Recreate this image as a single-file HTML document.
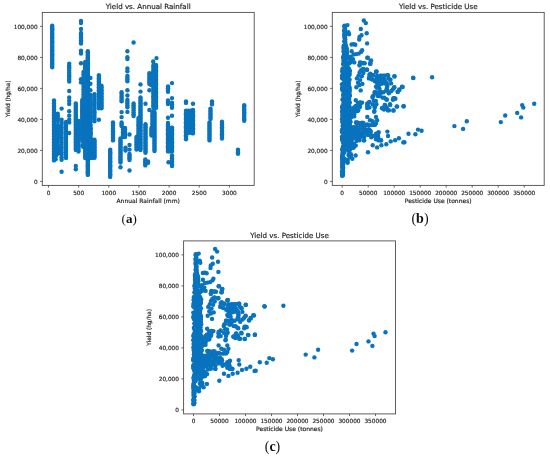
<!DOCTYPE html>
<html lang="en">
<head>
<meta charset="utf-8">
<title>Yield scatter plots</title>
<style>
html,body{margin:0;padding:0;background:#fff;}
body{width:550px;height:458px;overflow:hidden;}
svg{display:block;}
</style>
</head>
<body>
<svg width="550" height="458" viewBox="0 0 550 458">
<rect width="550" height="458" fill="#fff"/>
<g transform="translate(0,0)">
<g fill="#0973bd">
<circle cx="52.2" cy="25.6" r="2.2"/>
<circle cx="52.2" cy="26.9" r="2.2"/>
<circle cx="52.2" cy="28.2" r="2.2"/>
<circle cx="52.2" cy="29.5" r="2.2"/>
<circle cx="52.2" cy="30.8" r="2.2"/>
<circle cx="52.2" cy="32.1" r="2.2"/>
<circle cx="52.2" cy="33.4" r="2.2"/>
<circle cx="52.2" cy="34.7" r="2.2"/>
<circle cx="52.2" cy="36" r="2.2"/>
<circle cx="52.2" cy="37.3" r="2.2"/>
<circle cx="52.2" cy="38.6" r="2.2"/>
<circle cx="52.2" cy="39.9" r="2.2"/>
<circle cx="52.2" cy="41.2" r="2.2"/>
<circle cx="52.2" cy="42.5" r="2.2"/>
<circle cx="52.2" cy="43.8" r="2.2"/>
<circle cx="52.2" cy="45.1" r="2.2"/>
<circle cx="52.2" cy="46.4" r="2.2"/>
<circle cx="52.2" cy="47.7" r="2.2"/>
<circle cx="52.2" cy="49" r="2.2"/>
<circle cx="52.2" cy="50.3" r="2.2"/>
<circle cx="52.2" cy="51.6" r="2.2"/>
<circle cx="52.2" cy="52.9" r="2.2"/>
<circle cx="52.2" cy="54.2" r="2.2"/>
<circle cx="52.2" cy="55.5" r="2.2"/>
<circle cx="52.2" cy="56.8" r="2.2"/>
<circle cx="52.2" cy="58.1" r="2.2"/>
<circle cx="52.2" cy="59.4" r="2.2"/>
<circle cx="52.2" cy="60.7" r="2.2"/>
<circle cx="52.2" cy="62" r="2.2"/>
<circle cx="52.2" cy="63.3" r="2.2"/>
<circle cx="52.2" cy="64.6" r="2.2"/>
<circle cx="52.2" cy="65.9" r="2.2"/>
<circle cx="52.2" cy="67.2" r="2.2"/>
<circle cx="54" cy="100.4" r="2.2"/>
<circle cx="54" cy="101.9" r="2.2"/>
<circle cx="54" cy="103.4" r="2.2"/>
<circle cx="54" cy="104.9" r="2.2"/>
<circle cx="54" cy="106.4" r="2.2"/>
<circle cx="54" cy="107.9" r="2.2"/>
<circle cx="54" cy="109.4" r="2.2"/>
<circle cx="54" cy="110.9" r="2.2"/>
<circle cx="54" cy="112.4" r="2.2"/>
<circle cx="54" cy="113.9" r="2.2"/>
<circle cx="54" cy="115.4" r="2.2"/>
<circle cx="54" cy="116.9" r="2.2"/>
<circle cx="54" cy="118.4" r="2.2"/>
<circle cx="54" cy="119.9" r="2.2"/>
<circle cx="54" cy="121.4" r="2.2"/>
<circle cx="54" cy="122.9" r="2.2"/>
<circle cx="54" cy="124.4" r="2.2"/>
<circle cx="54" cy="125.9" r="2.2"/>
<circle cx="54" cy="127.4" r="2.2"/>
<circle cx="54" cy="128.9" r="2.2"/>
<circle cx="54" cy="130.4" r="2.2"/>
<circle cx="54" cy="131.9" r="2.2"/>
<circle cx="54" cy="133.4" r="2.2"/>
<circle cx="54" cy="134.9" r="2.2"/>
<circle cx="54" cy="136.4" r="2.2"/>
<circle cx="54" cy="137.9" r="2.2"/>
<circle cx="54" cy="139.4" r="2.2"/>
<circle cx="54" cy="140.9" r="2.2"/>
<circle cx="54" cy="142.4" r="2.2"/>
<circle cx="54" cy="143.9" r="2.2"/>
<circle cx="54" cy="145.4" r="2.2"/>
<circle cx="54" cy="146.9" r="2.2"/>
<circle cx="54" cy="148.4" r="2.2"/>
<circle cx="54" cy="149.9" r="2.2"/>
<circle cx="54" cy="151.4" r="2.2"/>
<circle cx="54" cy="152.9" r="2.2"/>
<circle cx="54" cy="154.4" r="2.2"/>
<circle cx="54" cy="155.9" r="2.2"/>
<circle cx="54" cy="157.4" r="2.2"/>
<circle cx="54" cy="158.9" r="2.2"/>
<circle cx="54" cy="160.4" r="2.2"/>
<circle cx="57.7" cy="113.8" r="2.2"/>
<circle cx="57.7" cy="115.6" r="2.2"/>
<circle cx="57.7" cy="117.4" r="2.2"/>
<circle cx="57.7" cy="119.2" r="2.2"/>
<circle cx="57.7" cy="121" r="2.2"/>
<circle cx="57.7" cy="125" r="2.2"/>
<circle cx="57.7" cy="127.4" r="2.2"/>
<circle cx="57.7" cy="129.8" r="2.2"/>
<circle cx="57.7" cy="132.2" r="2.2"/>
<circle cx="57.7" cy="134.6" r="2.2"/>
<circle cx="57.7" cy="137" r="2.2"/>
<circle cx="57.7" cy="139.4" r="2.2"/>
<circle cx="57.7" cy="141.8" r="2.2"/>
<circle cx="57.7" cy="144.2" r="2.2"/>
<circle cx="57.7" cy="146.6" r="2.2"/>
<circle cx="57.7" cy="149" r="2.2"/>
<circle cx="57.7" cy="151.4" r="2.2"/>
<circle cx="57.7" cy="153.8" r="2.2"/>
<circle cx="61.6" cy="119.7" r="2.2"/>
<circle cx="61.6" cy="122.2" r="2.2"/>
<circle cx="61.6" cy="124.7" r="2.2"/>
<circle cx="61.6" cy="127.2" r="2.2"/>
<circle cx="61.6" cy="129.7" r="2.2"/>
<circle cx="61.6" cy="132.2" r="2.2"/>
<circle cx="61.6" cy="134.7" r="2.2"/>
<circle cx="61.6" cy="137.2" r="2.2"/>
<circle cx="61.6" cy="139.7" r="2.2"/>
<circle cx="61.6" cy="142.2" r="2.2"/>
<circle cx="61.6" cy="144.7" r="2.2"/>
<circle cx="61.6" cy="147.2" r="2.2"/>
<circle cx="61.6" cy="149.7" r="2.2"/>
<circle cx="61.6" cy="152.2" r="2.2"/>
<circle cx="61.6" cy="154.7" r="2.2"/>
<circle cx="61.6" cy="157.2" r="2.2"/>
<circle cx="61.6" cy="159.7" r="2.2"/>
<circle cx="61.6" cy="108.6" r="2.2"/>
<circle cx="61.6" cy="171.8" r="2.2"/>
<circle cx="66" cy="122" r="2.2"/>
<circle cx="66" cy="124" r="2.2"/>
<circle cx="66" cy="126" r="2.2"/>
<circle cx="66" cy="128" r="2.2"/>
<circle cx="66" cy="130" r="2.2"/>
<circle cx="66" cy="132" r="2.2"/>
<circle cx="66" cy="134" r="2.2"/>
<circle cx="66" cy="136" r="2.2"/>
<circle cx="66" cy="138" r="2.2"/>
<circle cx="66" cy="140" r="2.2"/>
<circle cx="66" cy="142" r="2.2"/>
<circle cx="66" cy="144" r="2.2"/>
<circle cx="66" cy="146" r="2.2"/>
<circle cx="66" cy="148" r="2.2"/>
<circle cx="66" cy="150" r="2.2"/>
<circle cx="66" cy="152" r="2.2"/>
<circle cx="66" cy="154" r="2.2"/>
<circle cx="66" cy="156" r="2.2"/>
<circle cx="66" cy="158" r="2.2"/>
<circle cx="69.2" cy="63.6" r="2.2"/>
<circle cx="69.2" cy="65.4" r="2.2"/>
<circle cx="69.2" cy="67.2" r="2.2"/>
<circle cx="69.2" cy="69" r="2.2"/>
<circle cx="69.2" cy="70.8" r="2.2"/>
<circle cx="69.2" cy="72.6" r="2.2"/>
<circle cx="69.2" cy="74.4" r="2.2"/>
<circle cx="69.2" cy="76.2" r="2.2"/>
<circle cx="69.2" cy="78" r="2.2"/>
<circle cx="69.2" cy="79.8" r="2.2"/>
<circle cx="69.2" cy="81.6" r="2.2"/>
<circle cx="69.2" cy="91" r="2.2"/>
<circle cx="69.2" cy="97.5" r="2.2"/>
<circle cx="69.2" cy="100.8" r="2.2"/>
<circle cx="69.2" cy="104" r="2.2"/>
<circle cx="69.2" cy="111.2" r="2.2"/>
<circle cx="69.2" cy="115.8" r="2.2"/>
<circle cx="69.2" cy="119.7" r="2.2"/>
<circle cx="69.2" cy="122.4" r="2.2"/>
<circle cx="69.2" cy="133" r="2.2"/>
<circle cx="75.8" cy="103.4" r="2.2"/>
<circle cx="75.8" cy="104.9" r="2.2"/>
<circle cx="75.8" cy="106.4" r="2.2"/>
<circle cx="75.8" cy="107.9" r="2.2"/>
<circle cx="75.8" cy="109.4" r="2.2"/>
<circle cx="75.8" cy="110.9" r="2.2"/>
<circle cx="75.8" cy="112.4" r="2.2"/>
<circle cx="75.8" cy="113.9" r="2.2"/>
<circle cx="75.8" cy="115.4" r="2.2"/>
<circle cx="75.8" cy="116.9" r="2.2"/>
<circle cx="75.8" cy="118.4" r="2.2"/>
<circle cx="75.8" cy="119.9" r="2.2"/>
<circle cx="75.8" cy="121.4" r="2.2"/>
<circle cx="75.8" cy="122.9" r="2.2"/>
<circle cx="75.8" cy="124.4" r="2.2"/>
<circle cx="75.8" cy="125.9" r="2.2"/>
<circle cx="75.8" cy="127.4" r="2.2"/>
<circle cx="75.8" cy="128.9" r="2.2"/>
<circle cx="75.8" cy="130.4" r="2.2"/>
<circle cx="75.8" cy="131.9" r="2.2"/>
<circle cx="75.8" cy="133.4" r="2.2"/>
<circle cx="75.8" cy="134.9" r="2.2"/>
<circle cx="75.8" cy="136.4" r="2.2"/>
<circle cx="75.8" cy="137.9" r="2.2"/>
<circle cx="75.8" cy="139.4" r="2.2"/>
<circle cx="75.8" cy="140.9" r="2.2"/>
<circle cx="75.8" cy="142.4" r="2.2"/>
<circle cx="75.8" cy="143.9" r="2.2"/>
<circle cx="75.8" cy="145.4" r="2.2"/>
<circle cx="75.8" cy="146.9" r="2.2"/>
<circle cx="75.8" cy="148.4" r="2.2"/>
<circle cx="75.8" cy="149.9" r="2.2"/>
<circle cx="75.8" cy="166" r="2.2"/>
<circle cx="75.8" cy="169.2" r="2.2"/>
<circle cx="78.5" cy="121" r="2.2"/>
<circle cx="78.5" cy="122.8" r="2.2"/>
<circle cx="78.5" cy="124.6" r="2.2"/>
<circle cx="78.5" cy="126.4" r="2.2"/>
<circle cx="78.5" cy="128.2" r="2.2"/>
<circle cx="78.5" cy="130" r="2.2"/>
<circle cx="78.5" cy="131.8" r="2.2"/>
<circle cx="78.5" cy="133.6" r="2.2"/>
<circle cx="78.5" cy="135.4" r="2.2"/>
<circle cx="78.5" cy="137.2" r="2.2"/>
<circle cx="78.5" cy="139" r="2.2"/>
<circle cx="78.5" cy="140.8" r="2.2"/>
<circle cx="78.5" cy="142.6" r="2.2"/>
<circle cx="78.5" cy="144.4" r="2.2"/>
<circle cx="78.5" cy="146.2" r="2.2"/>
<circle cx="78.5" cy="148" r="2.2"/>
<circle cx="78.5" cy="149.8" r="2.2"/>
<circle cx="78.5" cy="151.6" r="2.2"/>
<circle cx="81" cy="20.9" r="2.2"/>
<circle cx="81" cy="23.1" r="2.2"/>
<circle cx="81" cy="29" r="2.2"/>
<circle cx="81" cy="63.3" r="2.2"/>
<circle cx="81" cy="79.2" r="2.2"/>
<circle cx="81" cy="82.4" r="2.2"/>
<circle cx="81" cy="33" r="2.2"/>
<circle cx="81" cy="34.5" r="2.2"/>
<circle cx="81" cy="36" r="2.2"/>
<circle cx="81" cy="37.5" r="2.2"/>
<circle cx="81" cy="39" r="2.2"/>
<circle cx="81" cy="40.5" r="2.2"/>
<circle cx="81" cy="42" r="2.2"/>
<circle cx="81" cy="43.5" r="2.2"/>
<circle cx="81" cy="50.6" r="2.2"/>
<circle cx="81" cy="52.1" r="2.2"/>
<circle cx="81" cy="53.6" r="2.2"/>
<circle cx="82.3" cy="100" r="2.2"/>
<circle cx="82.3" cy="101.5" r="2.2"/>
<circle cx="82.3" cy="103" r="2.2"/>
<circle cx="82.3" cy="104.5" r="2.2"/>
<circle cx="82.3" cy="106" r="2.2"/>
<circle cx="82.3" cy="107.5" r="2.2"/>
<circle cx="82.3" cy="109" r="2.2"/>
<circle cx="82.3" cy="110.5" r="2.2"/>
<circle cx="82.3" cy="112" r="2.2"/>
<circle cx="82.3" cy="113.5" r="2.2"/>
<circle cx="82.3" cy="115" r="2.2"/>
<circle cx="82.3" cy="116.5" r="2.2"/>
<circle cx="82.3" cy="118" r="2.2"/>
<circle cx="82.3" cy="119.5" r="2.2"/>
<circle cx="82.3" cy="121" r="2.2"/>
<circle cx="82.3" cy="122.5" r="2.2"/>
<circle cx="82.3" cy="124" r="2.2"/>
<circle cx="82.3" cy="125.5" r="2.2"/>
<circle cx="82.3" cy="127" r="2.2"/>
<circle cx="82.3" cy="128.5" r="2.2"/>
<circle cx="82.3" cy="130" r="2.2"/>
<circle cx="82.3" cy="131.5" r="2.2"/>
<circle cx="82.3" cy="133" r="2.2"/>
<circle cx="82.3" cy="134.5" r="2.2"/>
<circle cx="82.3" cy="136" r="2.2"/>
<circle cx="82.3" cy="137.5" r="2.2"/>
<circle cx="82.3" cy="139" r="2.2"/>
<circle cx="82.3" cy="140.5" r="2.2"/>
<circle cx="87.8" cy="51.3" r="2.2"/>
<circle cx="87.8" cy="52.5" r="2.2"/>
<circle cx="87.8" cy="53.7" r="2.2"/>
<circle cx="87.8" cy="54.9" r="2.2"/>
<circle cx="87.8" cy="56.1" r="2.2"/>
<circle cx="87.8" cy="57.3" r="2.2"/>
<circle cx="87.8" cy="58.5" r="2.2"/>
<circle cx="87.8" cy="59.7" r="2.2"/>
<circle cx="87.8" cy="60.9" r="2.2"/>
<circle cx="87.8" cy="62.1" r="2.2"/>
<circle cx="87.8" cy="63.3" r="2.2"/>
<circle cx="87.8" cy="64.5" r="2.2"/>
<circle cx="87.8" cy="65.7" r="2.2"/>
<circle cx="87.8" cy="66.9" r="2.2"/>
<circle cx="87.8" cy="68.1" r="2.2"/>
<circle cx="87.8" cy="69.3" r="2.2"/>
<circle cx="87.8" cy="70.5" r="2.2"/>
<circle cx="87.8" cy="71.7" r="2.2"/>
<circle cx="87.8" cy="72.9" r="2.2"/>
<circle cx="87.8" cy="74.1" r="2.2"/>
<circle cx="87.8" cy="75.3" r="2.2"/>
<circle cx="87.8" cy="76.5" r="2.2"/>
<circle cx="87.8" cy="77.7" r="2.2"/>
<circle cx="87.8" cy="78.9" r="2.2"/>
<circle cx="87.8" cy="80.1" r="2.2"/>
<circle cx="87.8" cy="81.3" r="2.2"/>
<circle cx="87.8" cy="82.5" r="2.2"/>
<circle cx="87.8" cy="83.7" r="2.2"/>
<circle cx="87.8" cy="84.9" r="2.2"/>
<circle cx="87.8" cy="86.1" r="2.2"/>
<circle cx="87.8" cy="87.3" r="2.2"/>
<circle cx="87.8" cy="88.5" r="2.2"/>
<circle cx="87.8" cy="89.7" r="2.2"/>
<circle cx="87.8" cy="90.9" r="2.2"/>
<circle cx="87.8" cy="92.1" r="2.2"/>
<circle cx="87.8" cy="93.3" r="2.2"/>
<circle cx="87.8" cy="94.5" r="2.2"/>
<circle cx="87.8" cy="95.7" r="2.2"/>
<circle cx="87.8" cy="96.9" r="2.2"/>
<circle cx="87.8" cy="98.1" r="2.2"/>
<circle cx="87.8" cy="99.3" r="2.2"/>
<circle cx="87.8" cy="100.5" r="2.2"/>
<circle cx="87.8" cy="101.7" r="2.2"/>
<circle cx="87.8" cy="102.9" r="2.2"/>
<circle cx="87.8" cy="104.1" r="2.2"/>
<circle cx="87.8" cy="105.3" r="2.2"/>
<circle cx="87.8" cy="106.5" r="2.2"/>
<circle cx="87.8" cy="107.7" r="2.2"/>
<circle cx="87.8" cy="108.9" r="2.2"/>
<circle cx="87.8" cy="110.1" r="2.2"/>
<circle cx="87.8" cy="111.3" r="2.2"/>
<circle cx="87.8" cy="112.5" r="2.2"/>
<circle cx="87.8" cy="113.7" r="2.2"/>
<circle cx="87.8" cy="114.9" r="2.2"/>
<circle cx="87.8" cy="116.1" r="2.2"/>
<circle cx="87.8" cy="117.3" r="2.2"/>
<circle cx="87.8" cy="118.5" r="2.2"/>
<circle cx="87.8" cy="119.7" r="2.2"/>
<circle cx="87.8" cy="120.9" r="2.2"/>
<circle cx="87.8" cy="122.1" r="2.2"/>
<circle cx="87.8" cy="123.3" r="2.2"/>
<circle cx="87.8" cy="124.5" r="2.2"/>
<circle cx="87.8" cy="125.7" r="2.2"/>
<circle cx="87.8" cy="126.9" r="2.2"/>
<circle cx="87.8" cy="128.1" r="2.2"/>
<circle cx="87.8" cy="129.3" r="2.2"/>
<circle cx="87.8" cy="130.5" r="2.2"/>
<circle cx="87.8" cy="131.7" r="2.2"/>
<circle cx="87.8" cy="132.9" r="2.2"/>
<circle cx="87.8" cy="134.1" r="2.2"/>
<circle cx="87.8" cy="135.3" r="2.2"/>
<circle cx="87.8" cy="136.5" r="2.2"/>
<circle cx="87.8" cy="137.7" r="2.2"/>
<circle cx="87.8" cy="138.9" r="2.2"/>
<circle cx="87.8" cy="140.1" r="2.2"/>
<circle cx="87.8" cy="141.3" r="2.2"/>
<circle cx="87.8" cy="142.5" r="2.2"/>
<circle cx="87.8" cy="143.7" r="2.2"/>
<circle cx="87.8" cy="144.9" r="2.2"/>
<circle cx="87.8" cy="146.1" r="2.2"/>
<circle cx="87.8" cy="147.3" r="2.2"/>
<circle cx="87.8" cy="148.5" r="2.2"/>
<circle cx="87.8" cy="149.7" r="2.2"/>
<circle cx="87.8" cy="150.9" r="2.2"/>
<circle cx="87.8" cy="152.1" r="2.2"/>
<circle cx="87.8" cy="153.3" r="2.2"/>
<circle cx="87.8" cy="154.5" r="2.2"/>
<circle cx="87.8" cy="155.7" r="2.2"/>
<circle cx="87.8" cy="156.9" r="2.2"/>
<circle cx="87.8" cy="158.1" r="2.2"/>
<circle cx="87.8" cy="159.3" r="2.2"/>
<circle cx="87.8" cy="160.5" r="2.2"/>
<circle cx="87.8" cy="161.7" r="2.2"/>
<circle cx="87.8" cy="162.9" r="2.2"/>
<circle cx="87.8" cy="164.1" r="2.2"/>
<circle cx="87.8" cy="165.3" r="2.2"/>
<circle cx="87.8" cy="166.5" r="2.2"/>
<circle cx="87.8" cy="167.7" r="2.2"/>
<circle cx="87.8" cy="168.9" r="2.2"/>
<circle cx="87.8" cy="170.1" r="2.2"/>
<circle cx="87.8" cy="171.3" r="2.2"/>
<circle cx="87.8" cy="172.5" r="2.2"/>
<circle cx="87.8" cy="173.7" r="2.2"/>
<circle cx="87.8" cy="174.9" r="2.2"/>
<circle cx="85.2" cy="62" r="2.2"/>
<circle cx="85.2" cy="63.5" r="2.2"/>
<circle cx="85.2" cy="65" r="2.2"/>
<circle cx="85.2" cy="66.5" r="2.2"/>
<circle cx="85.2" cy="68" r="2.2"/>
<circle cx="85.2" cy="69.5" r="2.2"/>
<circle cx="85.2" cy="71" r="2.2"/>
<circle cx="85.2" cy="72.5" r="2.2"/>
<circle cx="85.2" cy="74" r="2.2"/>
<circle cx="85.2" cy="75.5" r="2.2"/>
<circle cx="85.2" cy="77" r="2.2"/>
<circle cx="85.2" cy="78.5" r="2.2"/>
<circle cx="85.2" cy="80" r="2.2"/>
<circle cx="85.2" cy="81.5" r="2.2"/>
<circle cx="85.2" cy="83" r="2.2"/>
<circle cx="85.2" cy="84.5" r="2.2"/>
<circle cx="85.2" cy="86" r="2.2"/>
<circle cx="85.2" cy="87.5" r="2.2"/>
<circle cx="85.2" cy="89" r="2.2"/>
<circle cx="85.2" cy="90.5" r="2.2"/>
<circle cx="85.2" cy="92" r="2.2"/>
<circle cx="85.2" cy="93.5" r="2.2"/>
<circle cx="85.2" cy="95" r="2.2"/>
<circle cx="85.2" cy="96.5" r="2.2"/>
<circle cx="85.2" cy="98" r="2.2"/>
<circle cx="85.2" cy="99.5" r="2.2"/>
<circle cx="85.2" cy="101" r="2.2"/>
<circle cx="85.2" cy="102.5" r="2.2"/>
<circle cx="85.2" cy="104" r="2.2"/>
<circle cx="85.2" cy="105.5" r="2.2"/>
<circle cx="85.2" cy="107" r="2.2"/>
<circle cx="85.2" cy="108.5" r="2.2"/>
<circle cx="85.2" cy="110" r="2.2"/>
<circle cx="85.2" cy="111.5" r="2.2"/>
<circle cx="85.2" cy="113" r="2.2"/>
<circle cx="85.2" cy="114.5" r="2.2"/>
<circle cx="85.2" cy="116" r="2.2"/>
<circle cx="85.2" cy="117.5" r="2.2"/>
<circle cx="85.2" cy="119" r="2.2"/>
<circle cx="85.2" cy="120.5" r="2.2"/>
<circle cx="85.2" cy="122" r="2.2"/>
<circle cx="85.2" cy="123.5" r="2.2"/>
<circle cx="85.2" cy="125" r="2.2"/>
<circle cx="85.2" cy="126.5" r="2.2"/>
<circle cx="85.2" cy="128" r="2.2"/>
<circle cx="85.2" cy="129.5" r="2.2"/>
<circle cx="85.2" cy="131" r="2.2"/>
<circle cx="85.2" cy="132.5" r="2.2"/>
<circle cx="85.2" cy="134" r="2.2"/>
<circle cx="85.2" cy="135.5" r="2.2"/>
<circle cx="85.2" cy="137" r="2.2"/>
<circle cx="85.2" cy="138.5" r="2.2"/>
<circle cx="85.2" cy="140" r="2.2"/>
<circle cx="85.2" cy="141.5" r="2.2"/>
<circle cx="85.2" cy="143" r="2.2"/>
<circle cx="85.2" cy="144.5" r="2.2"/>
<circle cx="85.2" cy="146" r="2.2"/>
<circle cx="85.2" cy="147.5" r="2.2"/>
<circle cx="85.2" cy="149" r="2.2"/>
<circle cx="85.2" cy="150.5" r="2.2"/>
<circle cx="85.2" cy="152" r="2.2"/>
<circle cx="85.2" cy="153.5" r="2.2"/>
<circle cx="85.2" cy="155" r="2.2"/>
<circle cx="85.2" cy="156.5" r="2.2"/>
<circle cx="85.2" cy="158" r="2.2"/>
<circle cx="83.5" cy="72" r="2.2"/>
<circle cx="83.5" cy="74.5" r="2.2"/>
<circle cx="83.5" cy="77" r="2.2"/>
<circle cx="83.5" cy="79.5" r="2.2"/>
<circle cx="83.5" cy="82" r="2.2"/>
<circle cx="83.5" cy="84.5" r="2.2"/>
<circle cx="83.5" cy="87" r="2.2"/>
<circle cx="83.5" cy="89.5" r="2.2"/>
<circle cx="83.5" cy="92" r="2.2"/>
<circle cx="83.5" cy="94.5" r="2.2"/>
<circle cx="83.5" cy="97" r="2.2"/>
<circle cx="83.5" cy="99.5" r="2.2"/>
<circle cx="90.4" cy="77.9" r="2.2"/>
<circle cx="90.4" cy="83.7" r="2.2"/>
<circle cx="90.4" cy="90.3" r="2.2"/>
<circle cx="90.4" cy="95" r="2.2"/>
<circle cx="90.4" cy="98" r="2.2"/>
<circle cx="90.4" cy="101" r="2.2"/>
<circle cx="90.4" cy="104" r="2.2"/>
<circle cx="90.4" cy="107" r="2.2"/>
<circle cx="90.4" cy="110" r="2.2"/>
<circle cx="90.4" cy="113" r="2.2"/>
<circle cx="90.4" cy="116" r="2.2"/>
<circle cx="90.4" cy="119" r="2.2"/>
<circle cx="90.4" cy="122" r="2.2"/>
<circle cx="90.4" cy="125" r="2.2"/>
<circle cx="90.4" cy="128" r="2.2"/>
<circle cx="90.4" cy="128" r="2.2"/>
<circle cx="90.4" cy="129.5" r="2.2"/>
<circle cx="90.4" cy="131" r="2.2"/>
<circle cx="90.4" cy="132.5" r="2.2"/>
<circle cx="90.4" cy="134" r="2.2"/>
<circle cx="90.4" cy="135.5" r="2.2"/>
<circle cx="90.4" cy="137" r="2.2"/>
<circle cx="90.4" cy="138.5" r="2.2"/>
<circle cx="90.4" cy="140" r="2.2"/>
<circle cx="90.4" cy="141.5" r="2.2"/>
<circle cx="90.4" cy="143" r="2.2"/>
<circle cx="90.4" cy="144.5" r="2.2"/>
<circle cx="90.4" cy="146" r="2.2"/>
<circle cx="90.4" cy="147.5" r="2.2"/>
<circle cx="90.4" cy="149" r="2.2"/>
<circle cx="90.4" cy="150.5" r="2.2"/>
<circle cx="90.4" cy="152" r="2.2"/>
<circle cx="90.4" cy="153.5" r="2.2"/>
<circle cx="90.4" cy="155" r="2.2"/>
<circle cx="90.4" cy="156.5" r="2.2"/>
<circle cx="90.4" cy="158" r="2.2"/>
<circle cx="94.4" cy="94.2" r="2.2"/>
<circle cx="94.4" cy="96" r="2.2"/>
<circle cx="94.4" cy="97.8" r="2.2"/>
<circle cx="94.4" cy="99.6" r="2.2"/>
<circle cx="94.4" cy="101.4" r="2.2"/>
<circle cx="94.4" cy="103.2" r="2.2"/>
<circle cx="94.4" cy="105" r="2.2"/>
<circle cx="94.4" cy="106.8" r="2.2"/>
<circle cx="94.4" cy="108.6" r="2.2"/>
<circle cx="94.4" cy="110.4" r="2.2"/>
<circle cx="94.4" cy="112.2" r="2.2"/>
<circle cx="94.4" cy="114" r="2.2"/>
<circle cx="94.4" cy="115.8" r="2.2"/>
<circle cx="94.4" cy="117.6" r="2.2"/>
<circle cx="94.4" cy="119.4" r="2.2"/>
<circle cx="94.4" cy="121.2" r="2.2"/>
<circle cx="92.5" cy="139.8" r="2.2"/>
<circle cx="92.5" cy="141.3" r="2.2"/>
<circle cx="92.5" cy="142.8" r="2.2"/>
<circle cx="92.5" cy="144.3" r="2.2"/>
<circle cx="92.5" cy="145.8" r="2.2"/>
<circle cx="92.5" cy="147.3" r="2.2"/>
<circle cx="92.5" cy="148.8" r="2.2"/>
<circle cx="92.5" cy="150.3" r="2.2"/>
<circle cx="92.5" cy="151.8" r="2.2"/>
<circle cx="92.5" cy="153.3" r="2.2"/>
<circle cx="92.5" cy="154.8" r="2.2"/>
<circle cx="92.5" cy="156.3" r="2.2"/>
<circle cx="92.5" cy="157.8" r="2.2"/>
<circle cx="94.5" cy="139.8" r="2.2"/>
<circle cx="94.5" cy="141.3" r="2.2"/>
<circle cx="94.5" cy="142.8" r="2.2"/>
<circle cx="94.5" cy="144.3" r="2.2"/>
<circle cx="94.5" cy="145.8" r="2.2"/>
<circle cx="94.5" cy="147.3" r="2.2"/>
<circle cx="94.5" cy="148.8" r="2.2"/>
<circle cx="94.5" cy="150.3" r="2.2"/>
<circle cx="94.5" cy="151.8" r="2.2"/>
<circle cx="94.5" cy="153.3" r="2.2"/>
<circle cx="94.5" cy="154.8" r="2.2"/>
<circle cx="94.5" cy="156.3" r="2.2"/>
<circle cx="94.5" cy="157.8" r="2.2"/>
<circle cx="98.9" cy="75.2" r="2.2"/>
<circle cx="98.9" cy="76.7" r="2.2"/>
<circle cx="98.9" cy="78.2" r="2.2"/>
<circle cx="98.9" cy="79.7" r="2.2"/>
<circle cx="98.9" cy="81.2" r="2.2"/>
<circle cx="98.9" cy="82.7" r="2.2"/>
<circle cx="98.9" cy="84.2" r="2.2"/>
<circle cx="98.9" cy="85.7" r="2.2"/>
<circle cx="98.9" cy="87.2" r="2.2"/>
<circle cx="98.9" cy="88.7" r="2.2"/>
<circle cx="98.9" cy="90.2" r="2.2"/>
<circle cx="98.9" cy="91.7" r="2.2"/>
<circle cx="98.9" cy="93.2" r="2.2"/>
<circle cx="98.9" cy="94.7" r="2.2"/>
<circle cx="98.9" cy="96.2" r="2.2"/>
<circle cx="98.9" cy="97.7" r="2.2"/>
<circle cx="98.9" cy="99.2" r="2.2"/>
<circle cx="98.9" cy="100.7" r="2.2"/>
<circle cx="98.9" cy="102.2" r="2.2"/>
<circle cx="98.9" cy="103.7" r="2.2"/>
<circle cx="98.9" cy="105.2" r="2.2"/>
<circle cx="98.9" cy="106.7" r="2.2"/>
<circle cx="98.9" cy="108.2" r="2.2"/>
<circle cx="98.9" cy="119.7" r="2.2"/>
<circle cx="101.5" cy="85.7" r="2.2"/>
<circle cx="101.5" cy="87.2" r="2.2"/>
<circle cx="101.5" cy="88.7" r="2.2"/>
<circle cx="101.5" cy="90.2" r="2.2"/>
<circle cx="101.5" cy="91.7" r="2.2"/>
<circle cx="101.5" cy="93.2" r="2.2"/>
<circle cx="101.5" cy="94.7" r="2.2"/>
<circle cx="101.5" cy="96.2" r="2.2"/>
<circle cx="101.5" cy="97.7" r="2.2"/>
<circle cx="101.5" cy="99.2" r="2.2"/>
<circle cx="101.5" cy="100.7" r="2.2"/>
<circle cx="101.5" cy="102.2" r="2.2"/>
<circle cx="101.5" cy="103.7" r="2.2"/>
<circle cx="101.5" cy="105.2" r="2.2"/>
<circle cx="101.5" cy="106.7" r="2.2"/>
<circle cx="101.5" cy="108.2" r="2.2"/>
<circle cx="110.2" cy="149.6" r="2.2"/>
<circle cx="110.2" cy="150.9" r="2.2"/>
<circle cx="110.2" cy="152.2" r="2.2"/>
<circle cx="110.2" cy="153.5" r="2.2"/>
<circle cx="110.2" cy="154.8" r="2.2"/>
<circle cx="110.2" cy="156.1" r="2.2"/>
<circle cx="110.2" cy="157.4" r="2.2"/>
<circle cx="110.2" cy="158.7" r="2.2"/>
<circle cx="110.2" cy="160" r="2.2"/>
<circle cx="110.2" cy="161.3" r="2.2"/>
<circle cx="110.2" cy="162.6" r="2.2"/>
<circle cx="110.2" cy="163.9" r="2.2"/>
<circle cx="110.2" cy="165.2" r="2.2"/>
<circle cx="110.2" cy="166.5" r="2.2"/>
<circle cx="110.2" cy="167.8" r="2.2"/>
<circle cx="110.2" cy="169.1" r="2.2"/>
<circle cx="110.2" cy="170.4" r="2.2"/>
<circle cx="110.2" cy="171.7" r="2.2"/>
<circle cx="110.2" cy="173" r="2.2"/>
<circle cx="110.2" cy="174.3" r="2.2"/>
<circle cx="110.2" cy="175.6" r="2.2"/>
<circle cx="110.2" cy="176.9" r="2.2"/>
<circle cx="113" cy="122.4" r="2.2"/>
<circle cx="113" cy="123.9" r="2.2"/>
<circle cx="113" cy="125.4" r="2.2"/>
<circle cx="113" cy="126.9" r="2.2"/>
<circle cx="113" cy="128.4" r="2.2"/>
<circle cx="113" cy="129.9" r="2.2"/>
<circle cx="113" cy="131.4" r="2.2"/>
<circle cx="113" cy="132.9" r="2.2"/>
<circle cx="113" cy="134.4" r="2.2"/>
<circle cx="113" cy="135.9" r="2.2"/>
<circle cx="113" cy="137.4" r="2.2"/>
<circle cx="113" cy="138.9" r="2.2"/>
<circle cx="113" cy="140.4" r="2.2"/>
<circle cx="121.6" cy="92.3" r="2.2"/>
<circle cx="121.6" cy="94.1" r="2.2"/>
<circle cx="121.6" cy="95.9" r="2.2"/>
<circle cx="121.6" cy="97.7" r="2.2"/>
<circle cx="121.6" cy="99.5" r="2.2"/>
<circle cx="121.6" cy="101.3" r="2.2"/>
<circle cx="121.6" cy="112.1" r="2.2"/>
<circle cx="121.6" cy="117.1" r="2.2"/>
<circle cx="121.6" cy="122.4" r="2.2"/>
<circle cx="121.6" cy="124.2" r="2.2"/>
<circle cx="121.6" cy="126" r="2.2"/>
<circle cx="120.5" cy="138.5" r="2.2"/>
<circle cx="120.5" cy="140" r="2.2"/>
<circle cx="120.5" cy="141.5" r="2.2"/>
<circle cx="120.5" cy="143" r="2.2"/>
<circle cx="120.5" cy="144.5" r="2.2"/>
<circle cx="120.5" cy="146" r="2.2"/>
<circle cx="120.5" cy="147.5" r="2.2"/>
<circle cx="120.5" cy="149" r="2.2"/>
<circle cx="120.5" cy="150.5" r="2.2"/>
<circle cx="120.5" cy="152" r="2.2"/>
<circle cx="120.5" cy="153.5" r="2.2"/>
<circle cx="120.5" cy="155" r="2.2"/>
<circle cx="120.5" cy="156.5" r="2.2"/>
<circle cx="120.5" cy="158" r="2.2"/>
<circle cx="120.5" cy="159.5" r="2.2"/>
<circle cx="120.5" cy="161" r="2.2"/>
<circle cx="120.5" cy="162.5" r="2.2"/>
<circle cx="120.5" cy="167.3" r="2.2"/>
<circle cx="123" cy="128" r="2.2"/>
<circle cx="123" cy="129.5" r="2.2"/>
<circle cx="123" cy="131" r="2.2"/>
<circle cx="123" cy="132.5" r="2.2"/>
<circle cx="123" cy="134" r="2.2"/>
<circle cx="123" cy="135.5" r="2.2"/>
<circle cx="123" cy="137" r="2.2"/>
<circle cx="125" cy="128" r="2.2"/>
<circle cx="125" cy="129.5" r="2.2"/>
<circle cx="125" cy="131" r="2.2"/>
<circle cx="125" cy="132.5" r="2.2"/>
<circle cx="125" cy="134" r="2.2"/>
<circle cx="125" cy="135.5" r="2.2"/>
<circle cx="125" cy="137" r="2.2"/>
<circle cx="125.5" cy="147.6" r="2.2"/>
<circle cx="125.5" cy="149.1" r="2.2"/>
<circle cx="125.5" cy="150.6" r="2.2"/>
<circle cx="127.4" cy="51.3" r="2.2"/>
<circle cx="127.4" cy="57.2" r="2.2"/>
<circle cx="127.4" cy="59.1" r="2.2"/>
<circle cx="127.4" cy="68.5" r="2.2"/>
<circle cx="127.4" cy="71.3" r="2.2"/>
<circle cx="127.4" cy="90.3" r="2.2"/>
<circle cx="127.4" cy="95.5" r="2.2"/>
<circle cx="127.4" cy="111.9" r="2.2"/>
<circle cx="127.4" cy="75.9" r="2.2"/>
<circle cx="127.4" cy="77.7" r="2.2"/>
<circle cx="127.4" cy="79.5" r="2.2"/>
<circle cx="127.4" cy="81.3" r="2.2"/>
<circle cx="127.4" cy="100" r="2.2"/>
<circle cx="127.4" cy="101.8" r="2.2"/>
<circle cx="127.4" cy="103.6" r="2.2"/>
<circle cx="127.4" cy="105.4" r="2.2"/>
<circle cx="127.4" cy="107.2" r="2.2"/>
<circle cx="133.6" cy="42.5" r="2.2"/>
<circle cx="133.6" cy="103.4" r="2.2"/>
<circle cx="133.6" cy="105.2" r="2.2"/>
<circle cx="133.6" cy="107" r="2.2"/>
<circle cx="133.6" cy="108.8" r="2.2"/>
<circle cx="133.6" cy="110.6" r="2.2"/>
<circle cx="133.6" cy="112.4" r="2.2"/>
<circle cx="133.6" cy="114.2" r="2.2"/>
<circle cx="133.6" cy="116" r="2.2"/>
<circle cx="129.5" cy="134.5" r="2.2"/>
<circle cx="129.5" cy="145" r="2.2"/>
<circle cx="129.5" cy="149.6" r="2.2"/>
<circle cx="129.5" cy="170.5" r="2.2"/>
<circle cx="129.5" cy="154" r="2.2"/>
<circle cx="129.5" cy="155.5" r="2.2"/>
<circle cx="129.5" cy="157" r="2.2"/>
<circle cx="129.5" cy="158.5" r="2.2"/>
<circle cx="129.5" cy="160" r="2.2"/>
<circle cx="140.5" cy="84.4" r="2.2"/>
<circle cx="140.5" cy="91.6" r="2.2"/>
<circle cx="140.5" cy="97.5" r="2.2"/>
<circle cx="140.5" cy="99" r="2.2"/>
<circle cx="140.5" cy="100.5" r="2.2"/>
<circle cx="140.5" cy="102" r="2.2"/>
<circle cx="140.5" cy="103.5" r="2.2"/>
<circle cx="140.5" cy="105" r="2.2"/>
<circle cx="140.5" cy="106.5" r="2.2"/>
<circle cx="140.5" cy="108" r="2.2"/>
<circle cx="140.5" cy="109.5" r="2.2"/>
<circle cx="140.5" cy="111" r="2.2"/>
<circle cx="140.5" cy="112.5" r="2.2"/>
<circle cx="140.5" cy="114" r="2.2"/>
<circle cx="140.5" cy="115.5" r="2.2"/>
<circle cx="140.5" cy="117" r="2.2"/>
<circle cx="140.5" cy="118.5" r="2.2"/>
<circle cx="140.5" cy="120" r="2.2"/>
<circle cx="140.5" cy="121.5" r="2.2"/>
<circle cx="140.5" cy="123" r="2.2"/>
<circle cx="140.5" cy="124.5" r="2.2"/>
<circle cx="140.5" cy="126" r="2.2"/>
<circle cx="140.5" cy="127.5" r="2.2"/>
<circle cx="140.5" cy="129" r="2.2"/>
<circle cx="140.5" cy="130.5" r="2.2"/>
<circle cx="140.5" cy="132" r="2.2"/>
<circle cx="140.5" cy="133.5" r="2.2"/>
<circle cx="140.5" cy="135" r="2.2"/>
<circle cx="140.5" cy="136.5" r="2.2"/>
<circle cx="140.5" cy="138" r="2.2"/>
<circle cx="140.5" cy="139.5" r="2.2"/>
<circle cx="140.5" cy="141" r="2.2"/>
<circle cx="140.5" cy="142.5" r="2.2"/>
<circle cx="140.5" cy="144" r="2.2"/>
<circle cx="140.5" cy="145.5" r="2.2"/>
<circle cx="140.5" cy="147" r="2.2"/>
<circle cx="140.5" cy="148.5" r="2.2"/>
<circle cx="140.5" cy="150" r="2.2"/>
<circle cx="138.5" cy="118" r="2.2"/>
<circle cx="138.5" cy="119.8" r="2.2"/>
<circle cx="138.5" cy="121.6" r="2.2"/>
<circle cx="138.5" cy="123.4" r="2.2"/>
<circle cx="138.5" cy="125.2" r="2.2"/>
<circle cx="138.5" cy="127" r="2.2"/>
<circle cx="138.5" cy="128.8" r="2.2"/>
<circle cx="138.5" cy="130.6" r="2.2"/>
<circle cx="138.5" cy="132.4" r="2.2"/>
<circle cx="138.5" cy="134.2" r="2.2"/>
<circle cx="138.5" cy="136" r="2.2"/>
<circle cx="138.5" cy="137.8" r="2.2"/>
<circle cx="138.5" cy="139.6" r="2.2"/>
<circle cx="138.5" cy="141.4" r="2.2"/>
<circle cx="138.5" cy="143.2" r="2.2"/>
<circle cx="138.5" cy="145" r="2.2"/>
<circle cx="138.5" cy="146.8" r="2.2"/>
<circle cx="138.5" cy="148.6" r="2.2"/>
<circle cx="136.5" cy="137" r="2.2"/>
<circle cx="136.5" cy="138.8" r="2.2"/>
<circle cx="136.5" cy="140.6" r="2.2"/>
<circle cx="136.5" cy="142.4" r="2.2"/>
<circle cx="136.5" cy="144.2" r="2.2"/>
<circle cx="136.5" cy="146" r="2.2"/>
<circle cx="136.5" cy="147.8" r="2.2"/>
<circle cx="136.5" cy="149.6" r="2.2"/>
<circle cx="145.5" cy="103.8" r="2.2"/>
<circle cx="145.5" cy="124.3" r="2.2"/>
<circle cx="145.5" cy="125.8" r="2.2"/>
<circle cx="145.5" cy="127.3" r="2.2"/>
<circle cx="145.5" cy="128.8" r="2.2"/>
<circle cx="145.5" cy="130.3" r="2.2"/>
<circle cx="145.5" cy="131.8" r="2.2"/>
<circle cx="145.5" cy="133.3" r="2.2"/>
<circle cx="145.5" cy="134.8" r="2.2"/>
<circle cx="145.5" cy="136.3" r="2.2"/>
<circle cx="145.5" cy="137.8" r="2.2"/>
<circle cx="145.5" cy="139.3" r="2.2"/>
<circle cx="145.5" cy="140.8" r="2.2"/>
<circle cx="145.5" cy="142.3" r="2.2"/>
<circle cx="145.5" cy="143.8" r="2.2"/>
<circle cx="145.5" cy="145.3" r="2.2"/>
<circle cx="145.5" cy="146.8" r="2.2"/>
<circle cx="145.5" cy="148.3" r="2.2"/>
<circle cx="145.5" cy="149.8" r="2.2"/>
<circle cx="145.5" cy="151.3" r="2.2"/>
<circle cx="145.5" cy="152.8" r="2.2"/>
<circle cx="145.3" cy="159.4" r="2.2"/>
<circle cx="145.3" cy="160.9" r="2.2"/>
<circle cx="145.3" cy="162.4" r="2.2"/>
<circle cx="145.3" cy="163.9" r="2.2"/>
<circle cx="145.3" cy="165.4" r="2.2"/>
<circle cx="148" cy="161.4" r="2.2"/>
<circle cx="148" cy="162.9" r="2.2"/>
<circle cx="149.4" cy="73.3" r="2.2"/>
<circle cx="149.4" cy="75.1" r="2.2"/>
<circle cx="149.4" cy="76.9" r="2.2"/>
<circle cx="149.4" cy="78.7" r="2.2"/>
<circle cx="149.4" cy="80.5" r="2.2"/>
<circle cx="149.4" cy="82.3" r="2.2"/>
<circle cx="149.4" cy="84.1" r="2.2"/>
<circle cx="151.3" cy="74" r="2.2"/>
<circle cx="151.3" cy="76.2" r="2.2"/>
<circle cx="151.3" cy="78.4" r="2.2"/>
<circle cx="151.3" cy="80.6" r="2.2"/>
<circle cx="151.3" cy="82.8" r="2.2"/>
<circle cx="151.3" cy="85" r="2.2"/>
<circle cx="149.4" cy="90.3" r="2.2"/>
<circle cx="149.4" cy="110" r="2.2"/>
<circle cx="153.5" cy="65" r="2.2"/>
<circle cx="153.5" cy="66.3" r="2.2"/>
<circle cx="153.5" cy="67.6" r="2.2"/>
<circle cx="153.5" cy="68.9" r="2.2"/>
<circle cx="153.5" cy="70.2" r="2.2"/>
<circle cx="153.5" cy="71.5" r="2.2"/>
<circle cx="153.5" cy="72.8" r="2.2"/>
<circle cx="153.5" cy="74.1" r="2.2"/>
<circle cx="153.5" cy="75.4" r="2.2"/>
<circle cx="153.5" cy="76.7" r="2.2"/>
<circle cx="153.5" cy="78" r="2.2"/>
<circle cx="153.5" cy="79.3" r="2.2"/>
<circle cx="153.5" cy="80.6" r="2.2"/>
<circle cx="153.5" cy="81.9" r="2.2"/>
<circle cx="153.5" cy="83.2" r="2.2"/>
<circle cx="153.5" cy="84.5" r="2.2"/>
<circle cx="153.5" cy="85.8" r="2.2"/>
<circle cx="153.5" cy="87.1" r="2.2"/>
<circle cx="153.5" cy="88.4" r="2.2"/>
<circle cx="153.5" cy="89.7" r="2.2"/>
<circle cx="153.5" cy="91" r="2.2"/>
<circle cx="153.5" cy="92.3" r="2.2"/>
<circle cx="153.5" cy="93.6" r="2.2"/>
<circle cx="153.5" cy="94.9" r="2.2"/>
<circle cx="153.5" cy="96.2" r="2.2"/>
<circle cx="153.5" cy="97.5" r="2.2"/>
<circle cx="153.5" cy="98.8" r="2.2"/>
<circle cx="153.5" cy="100.1" r="2.2"/>
<circle cx="153.5" cy="101.4" r="2.2"/>
<circle cx="153.5" cy="102.7" r="2.2"/>
<circle cx="153.5" cy="104" r="2.2"/>
<circle cx="153.5" cy="105.3" r="2.2"/>
<circle cx="153.5" cy="106.6" r="2.2"/>
<circle cx="153.5" cy="107.9" r="2.2"/>
<circle cx="156" cy="65" r="2.2"/>
<circle cx="156" cy="66.3" r="2.2"/>
<circle cx="156" cy="67.6" r="2.2"/>
<circle cx="156" cy="68.9" r="2.2"/>
<circle cx="156" cy="70.2" r="2.2"/>
<circle cx="156" cy="71.5" r="2.2"/>
<circle cx="156" cy="72.8" r="2.2"/>
<circle cx="156" cy="74.1" r="2.2"/>
<circle cx="156" cy="75.4" r="2.2"/>
<circle cx="156" cy="76.7" r="2.2"/>
<circle cx="156" cy="78" r="2.2"/>
<circle cx="156" cy="79.3" r="2.2"/>
<circle cx="156" cy="80.6" r="2.2"/>
<circle cx="156" cy="81.9" r="2.2"/>
<circle cx="156" cy="83.2" r="2.2"/>
<circle cx="156" cy="84.5" r="2.2"/>
<circle cx="156" cy="85.8" r="2.2"/>
<circle cx="156" cy="87.1" r="2.2"/>
<circle cx="156" cy="88.4" r="2.2"/>
<circle cx="156" cy="89.7" r="2.2"/>
<circle cx="156" cy="91" r="2.2"/>
<circle cx="156" cy="92.3" r="2.2"/>
<circle cx="156" cy="93.6" r="2.2"/>
<circle cx="156" cy="94.9" r="2.2"/>
<circle cx="156" cy="96.2" r="2.2"/>
<circle cx="156" cy="97.5" r="2.2"/>
<circle cx="156" cy="98.8" r="2.2"/>
<circle cx="156" cy="100.1" r="2.2"/>
<circle cx="156" cy="101.4" r="2.2"/>
<circle cx="156" cy="102.7" r="2.2"/>
<circle cx="156" cy="104" r="2.2"/>
<circle cx="156" cy="105.3" r="2.2"/>
<circle cx="156" cy="106.6" r="2.2"/>
<circle cx="156" cy="107.9" r="2.2"/>
<circle cx="156.5" cy="58.1" r="2.2"/>
<circle cx="153.2" cy="61.5" r="2.2"/>
<circle cx="154.5" cy="112" r="2.2"/>
<circle cx="154.5" cy="113.5" r="2.2"/>
<circle cx="154.5" cy="115" r="2.2"/>
<circle cx="154.5" cy="116.5" r="2.2"/>
<circle cx="154.5" cy="118" r="2.2"/>
<circle cx="154.5" cy="119.5" r="2.2"/>
<circle cx="154.5" cy="121" r="2.2"/>
<circle cx="154.5" cy="122.5" r="2.2"/>
<circle cx="154.5" cy="124" r="2.2"/>
<circle cx="154.5" cy="125.5" r="2.2"/>
<circle cx="154.5" cy="127" r="2.2"/>
<circle cx="154.5" cy="128.5" r="2.2"/>
<circle cx="154.5" cy="130" r="2.2"/>
<circle cx="154.5" cy="131.5" r="2.2"/>
<circle cx="154.5" cy="133" r="2.2"/>
<circle cx="154.5" cy="134.5" r="2.2"/>
<circle cx="154.5" cy="136" r="2.2"/>
<circle cx="154.5" cy="137.5" r="2.2"/>
<circle cx="154.5" cy="139" r="2.2"/>
<circle cx="154.5" cy="140.5" r="2.2"/>
<circle cx="154.5" cy="142" r="2.2"/>
<circle cx="154.5" cy="143.5" r="2.2"/>
<circle cx="154.5" cy="145" r="2.2"/>
<circle cx="154.5" cy="146.5" r="2.2"/>
<circle cx="154.5" cy="148" r="2.2"/>
<circle cx="154.5" cy="149.5" r="2.2"/>
<circle cx="154.5" cy="151" r="2.2"/>
<circle cx="151.5" cy="128" r="2.2"/>
<circle cx="151.5" cy="129.5" r="2.2"/>
<circle cx="151.5" cy="131" r="2.2"/>
<circle cx="151.5" cy="132.5" r="2.2"/>
<circle cx="151.5" cy="134" r="2.2"/>
<circle cx="151.5" cy="135.5" r="2.2"/>
<circle cx="168" cy="86.4" r="2.2"/>
<circle cx="168" cy="88.2" r="2.2"/>
<circle cx="168" cy="90" r="2.2"/>
<circle cx="168" cy="91.8" r="2.2"/>
<circle cx="168" cy="100.4" r="2.2"/>
<circle cx="168" cy="102.2" r="2.2"/>
<circle cx="168" cy="104" r="2.2"/>
<circle cx="168" cy="117.8" r="2.2"/>
<circle cx="168" cy="123" r="2.2"/>
<circle cx="168" cy="124.6" r="2.2"/>
<circle cx="168" cy="126.2" r="2.2"/>
<circle cx="168" cy="128" r="2.2"/>
<circle cx="168" cy="129.3" r="2.2"/>
<circle cx="168" cy="130.6" r="2.2"/>
<circle cx="168" cy="131.9" r="2.2"/>
<circle cx="168" cy="133.2" r="2.2"/>
<circle cx="168" cy="134.5" r="2.2"/>
<circle cx="168" cy="135.8" r="2.2"/>
<circle cx="168" cy="137.1" r="2.2"/>
<circle cx="168" cy="138.4" r="2.2"/>
<circle cx="168" cy="139.7" r="2.2"/>
<circle cx="168" cy="141" r="2.2"/>
<circle cx="168" cy="142.3" r="2.2"/>
<circle cx="168" cy="143.6" r="2.2"/>
<circle cx="168" cy="144.9" r="2.2"/>
<circle cx="168" cy="146.2" r="2.2"/>
<circle cx="168" cy="147.5" r="2.2"/>
<circle cx="168" cy="148.8" r="2.2"/>
<circle cx="168" cy="150.1" r="2.2"/>
<circle cx="168" cy="151.4" r="2.2"/>
<circle cx="172" cy="83.1" r="2.2"/>
<circle cx="172" cy="98.1" r="2.2"/>
<circle cx="172" cy="115.8" r="2.2"/>
<circle cx="172" cy="127.6" r="2.2"/>
<circle cx="172" cy="102.7" r="2.2"/>
<circle cx="172" cy="104.4" r="2.2"/>
<circle cx="172" cy="106.1" r="2.2"/>
<circle cx="172" cy="107.8" r="2.2"/>
<circle cx="172" cy="128" r="2.2"/>
<circle cx="172" cy="129.3" r="2.2"/>
<circle cx="172" cy="130.6" r="2.2"/>
<circle cx="172" cy="131.9" r="2.2"/>
<circle cx="172" cy="133.2" r="2.2"/>
<circle cx="172" cy="134.5" r="2.2"/>
<circle cx="172" cy="135.8" r="2.2"/>
<circle cx="172" cy="137.1" r="2.2"/>
<circle cx="172" cy="138.4" r="2.2"/>
<circle cx="172" cy="139.7" r="2.2"/>
<circle cx="172" cy="141" r="2.2"/>
<circle cx="172" cy="142.3" r="2.2"/>
<circle cx="172" cy="143.6" r="2.2"/>
<circle cx="172" cy="144.9" r="2.2"/>
<circle cx="172" cy="146.2" r="2.2"/>
<circle cx="172" cy="147.5" r="2.2"/>
<circle cx="172" cy="148.8" r="2.2"/>
<circle cx="172" cy="150.1" r="2.2"/>
<circle cx="172" cy="151.4" r="2.2"/>
<circle cx="172" cy="155.5" r="2.2"/>
<circle cx="172" cy="157" r="2.2"/>
<circle cx="172" cy="158.5" r="2.2"/>
<circle cx="172" cy="160" r="2.2"/>
<circle cx="172" cy="161.5" r="2.2"/>
<circle cx="172" cy="163" r="2.2"/>
<circle cx="172" cy="164.5" r="2.2"/>
<circle cx="172" cy="166" r="2.2"/>
<circle cx="168.5" cy="162.3" r="2.2"/>
<circle cx="170" cy="128" r="2.2"/>
<circle cx="170" cy="129.3" r="2.2"/>
<circle cx="170" cy="130.6" r="2.2"/>
<circle cx="170" cy="131.9" r="2.2"/>
<circle cx="170" cy="133.2" r="2.2"/>
<circle cx="170" cy="134.5" r="2.2"/>
<circle cx="170" cy="135.8" r="2.2"/>
<circle cx="170" cy="137.1" r="2.2"/>
<circle cx="170" cy="138.4" r="2.2"/>
<circle cx="170" cy="139.7" r="2.2"/>
<circle cx="170" cy="141" r="2.2"/>
<circle cx="170" cy="142.3" r="2.2"/>
<circle cx="170" cy="143.6" r="2.2"/>
<circle cx="170" cy="144.9" r="2.2"/>
<circle cx="170" cy="146.2" r="2.2"/>
<circle cx="170" cy="147.5" r="2.2"/>
<circle cx="170" cy="148.8" r="2.2"/>
<circle cx="170" cy="150.1" r="2.2"/>
<circle cx="170" cy="151.4" r="2.2"/>
<circle cx="186" cy="101.4" r="2.2"/>
<circle cx="186" cy="102.9" r="2.2"/>
<circle cx="186" cy="110.6" r="2.2"/>
<circle cx="186" cy="111.9" r="2.2"/>
<circle cx="186" cy="113.2" r="2.2"/>
<circle cx="186" cy="114.5" r="2.2"/>
<circle cx="186" cy="115.8" r="2.2"/>
<circle cx="186" cy="117.1" r="2.2"/>
<circle cx="186" cy="118.4" r="2.2"/>
<circle cx="186" cy="119.7" r="2.2"/>
<circle cx="186" cy="121" r="2.2"/>
<circle cx="186" cy="122.3" r="2.2"/>
<circle cx="186" cy="123.6" r="2.2"/>
<circle cx="186" cy="124.9" r="2.2"/>
<circle cx="186" cy="126.2" r="2.2"/>
<circle cx="186" cy="127.5" r="2.2"/>
<circle cx="186" cy="128.8" r="2.2"/>
<circle cx="186" cy="130.1" r="2.2"/>
<circle cx="186" cy="131.4" r="2.2"/>
<circle cx="186" cy="132.7" r="2.2"/>
<circle cx="186" cy="134" r="2.2"/>
<circle cx="186" cy="135.3" r="2.2"/>
<circle cx="186" cy="136.6" r="2.2"/>
<circle cx="186" cy="137.9" r="2.2"/>
<circle cx="186" cy="139.2" r="2.2"/>
<circle cx="188.5" cy="110.6" r="2.2"/>
<circle cx="188.5" cy="111.9" r="2.2"/>
<circle cx="188.5" cy="113.2" r="2.2"/>
<circle cx="188.5" cy="114.5" r="2.2"/>
<circle cx="188.5" cy="115.8" r="2.2"/>
<circle cx="188.5" cy="117.1" r="2.2"/>
<circle cx="188.5" cy="118.4" r="2.2"/>
<circle cx="188.5" cy="119.7" r="2.2"/>
<circle cx="188.5" cy="121" r="2.2"/>
<circle cx="188.5" cy="122.3" r="2.2"/>
<circle cx="188.5" cy="123.6" r="2.2"/>
<circle cx="188.5" cy="124.9" r="2.2"/>
<circle cx="188.5" cy="126.2" r="2.2"/>
<circle cx="188.5" cy="127.5" r="2.2"/>
<circle cx="188.5" cy="128.8" r="2.2"/>
<circle cx="188.5" cy="130.1" r="2.2"/>
<circle cx="188.5" cy="131.4" r="2.2"/>
<circle cx="188.5" cy="132.7" r="2.2"/>
<circle cx="191" cy="110.6" r="2.2"/>
<circle cx="191" cy="111.9" r="2.2"/>
<circle cx="191" cy="113.2" r="2.2"/>
<circle cx="191" cy="114.5" r="2.2"/>
<circle cx="191" cy="115.8" r="2.2"/>
<circle cx="191" cy="117.1" r="2.2"/>
<circle cx="191" cy="118.4" r="2.2"/>
<circle cx="191" cy="119.7" r="2.2"/>
<circle cx="191" cy="121" r="2.2"/>
<circle cx="191" cy="122.3" r="2.2"/>
<circle cx="191" cy="123.6" r="2.2"/>
<circle cx="191" cy="124.9" r="2.2"/>
<circle cx="191" cy="126.2" r="2.2"/>
<circle cx="191" cy="127.5" r="2.2"/>
<circle cx="191" cy="128.8" r="2.2"/>
<circle cx="191" cy="130.1" r="2.2"/>
<circle cx="191" cy="131.4" r="2.2"/>
<circle cx="191" cy="132.7" r="2.2"/>
<circle cx="193" cy="110" r="2.2"/>
<circle cx="193" cy="111.3" r="2.2"/>
<circle cx="193" cy="112.6" r="2.2"/>
<circle cx="193" cy="113.9" r="2.2"/>
<circle cx="193" cy="115.2" r="2.2"/>
<circle cx="193" cy="116.5" r="2.2"/>
<circle cx="193" cy="117.8" r="2.2"/>
<circle cx="193" cy="119.1" r="2.2"/>
<circle cx="193" cy="120.4" r="2.2"/>
<circle cx="193" cy="121.7" r="2.2"/>
<circle cx="193" cy="123" r="2.2"/>
<circle cx="193" cy="124.3" r="2.2"/>
<circle cx="193" cy="125.6" r="2.2"/>
<circle cx="193" cy="126.9" r="2.2"/>
<circle cx="193" cy="128.2" r="2.2"/>
<circle cx="193" cy="129.5" r="2.2"/>
<circle cx="193" cy="130.8" r="2.2"/>
<circle cx="193" cy="132.1" r="2.2"/>
<circle cx="193" cy="133.4" r="2.2"/>
<circle cx="193" cy="103.8" r="2.2"/>
<circle cx="212" cy="101.4" r="2.2"/>
<circle cx="212" cy="102.9" r="2.2"/>
<circle cx="212" cy="104.4" r="2.2"/>
<circle cx="210.5" cy="108.6" r="2.2"/>
<circle cx="210.5" cy="110.1" r="2.2"/>
<circle cx="210.5" cy="111.6" r="2.2"/>
<circle cx="210.5" cy="113.1" r="2.2"/>
<circle cx="210.5" cy="114.6" r="2.2"/>
<circle cx="210.5" cy="116.1" r="2.2"/>
<circle cx="210.5" cy="117.6" r="2.2"/>
<circle cx="210.5" cy="119.1" r="2.2"/>
<circle cx="209.5" cy="122.4" r="2.2"/>
<circle cx="209.5" cy="123.9" r="2.2"/>
<circle cx="209.5" cy="125.4" r="2.2"/>
<circle cx="209.5" cy="126.9" r="2.2"/>
<circle cx="209.5" cy="128.4" r="2.2"/>
<circle cx="209.5" cy="129.9" r="2.2"/>
<circle cx="209.5" cy="131.4" r="2.2"/>
<circle cx="209.5" cy="132.9" r="2.2"/>
<circle cx="209.5" cy="134.4" r="2.2"/>
<circle cx="209.5" cy="135.9" r="2.2"/>
<circle cx="209.5" cy="137.4" r="2.2"/>
<circle cx="209.5" cy="138.9" r="2.2"/>
<circle cx="209.5" cy="140.4" r="2.2"/>
<circle cx="222" cy="121.7" r="2.2"/>
<circle cx="222" cy="123.1" r="2.2"/>
<circle cx="222" cy="124.5" r="2.2"/>
<circle cx="222" cy="125.9" r="2.2"/>
<circle cx="222" cy="127.3" r="2.2"/>
<circle cx="222" cy="128.7" r="2.2"/>
<circle cx="222" cy="130.1" r="2.2"/>
<circle cx="222" cy="131.5" r="2.2"/>
<circle cx="222" cy="132.9" r="2.2"/>
<circle cx="222" cy="134.3" r="2.2"/>
<circle cx="222" cy="135.7" r="2.2"/>
<circle cx="222" cy="137.1" r="2.2"/>
<circle cx="222" cy="138.5" r="2.2"/>
<circle cx="244.2" cy="105.3" r="2.2"/>
<circle cx="244.2" cy="106.7" r="2.2"/>
<circle cx="244.2" cy="108.1" r="2.2"/>
<circle cx="244.2" cy="109.5" r="2.2"/>
<circle cx="244.2" cy="110.9" r="2.2"/>
<circle cx="244.2" cy="112.3" r="2.2"/>
<circle cx="244.2" cy="113.7" r="2.2"/>
<circle cx="244.2" cy="115.1" r="2.2"/>
<circle cx="244.2" cy="116.5" r="2.2"/>
<circle cx="244.2" cy="117.9" r="2.2"/>
<circle cx="244.2" cy="119.3" r="2.2"/>
<circle cx="244.2" cy="120.7" r="2.2"/>
<circle cx="238" cy="149.6" r="2.2"/>
<circle cx="238" cy="151" r="2.2"/>
<circle cx="238" cy="152.4" r="2.2"/>
<circle cx="238" cy="153.8" r="2.2"/>
<circle cx="55.8" cy="141.2" r="2.2"/>
<circle cx="55.8" cy="155.5" r="2.2"/>
<circle cx="56.1" cy="143" r="2.2"/>
<circle cx="55.8" cy="146.2" r="2.2"/>
<circle cx="55.5" cy="139.3" r="2.2"/>
<circle cx="56" cy="152" r="2.2"/>
<circle cx="55.5" cy="154.8" r="2.2"/>
<circle cx="55.7" cy="159.3" r="2.2"/>
<circle cx="55.7" cy="131.7" r="2.2"/>
<circle cx="55.8" cy="155.8" r="2.2"/>
<circle cx="55.8" cy="155.2" r="2.2"/>
<circle cx="55.9" cy="137" r="2.2"/>
<circle cx="55.7" cy="142.2" r="2.2"/>
<circle cx="55.7" cy="137.4" r="2.2"/>
<circle cx="59.7" cy="151.4" r="2.2"/>
<circle cx="59.7" cy="130.2" r="2.2"/>
<circle cx="59.4" cy="136.8" r="2.2"/>
<circle cx="59.7" cy="130" r="2.2"/>
<circle cx="59.3" cy="135.3" r="2.2"/>
<circle cx="59.5" cy="126.9" r="2.2"/>
<circle cx="59.6" cy="152.7" r="2.2"/>
<circle cx="59.6" cy="147.4" r="2.2"/>
<circle cx="59.8" cy="150.3" r="2.2"/>
<circle cx="90.7" cy="112.4" r="2.2"/>
<circle cx="90.6" cy="103.4" r="2.2"/>
<circle cx="90.7" cy="110.6" r="2.2"/>
<circle cx="90.5" cy="124.9" r="2.2"/>
<circle cx="90.4" cy="105.3" r="2.2"/>
<circle cx="90.7" cy="116.8" r="2.2"/>
<circle cx="90.2" cy="128.8" r="2.2"/>
<circle cx="90.4" cy="128.2" r="2.2"/>
<circle cx="90.8" cy="133.5" r="2.2"/>
<circle cx="90.3" cy="139.7" r="2.2"/>
<circle cx="90.5" cy="141" r="2.2"/>
<circle cx="90.6" cy="147.8" r="2.2"/>
<circle cx="90.4" cy="130.9" r="2.2"/>
<circle cx="90.9" cy="148.7" r="2.2"/>
<circle cx="90.2" cy="141.3" r="2.2"/>
<circle cx="90.7" cy="157.8" r="2.2"/>
<circle cx="90.2" cy="128.3" r="2.2"/>
<circle cx="90.5" cy="140.7" r="2.2"/>
<circle cx="93.2" cy="154.9" r="2.2"/>
<circle cx="92.6" cy="147.5" r="2.2"/>
<circle cx="92.9" cy="155.9" r="2.2"/>
<circle cx="92.5" cy="147.1" r="2.2"/>
<circle cx="92.4" cy="151.5" r="2.2"/>
<circle cx="92.3" cy="156.8" r="2.2"/>
<circle cx="92.8" cy="150.3" r="2.2"/>
<circle cx="92.4" cy="144.2" r="2.2"/>
<circle cx="152.5" cy="112" r="2.2"/>
<circle cx="152.5" cy="113.6" r="2.2"/>
<circle cx="152.5" cy="115.2" r="2.2"/>
<circle cx="152.5" cy="116.8" r="2.2"/>
<circle cx="152.5" cy="118.4" r="2.2"/>
<circle cx="152.5" cy="120" r="2.2"/>
<circle cx="152.5" cy="121.6" r="2.2"/>
<circle cx="152.5" cy="123.2" r="2.2"/>
<circle cx="152.5" cy="124.8" r="2.2"/>
<circle cx="152.5" cy="126.4" r="2.2"/>
<circle cx="152.5" cy="128" r="2.2"/>
<circle cx="152.5" cy="129.6" r="2.2"/>
<circle cx="152.5" cy="131.2" r="2.2"/>
<circle cx="152.5" cy="132.8" r="2.2"/>
<circle cx="152.5" cy="134.4" r="2.2"/>
<circle cx="83.4" cy="142.9" r="2.2"/>
<circle cx="83.2" cy="110.2" r="2.2"/>
<circle cx="82.6" cy="121.6" r="2.2"/>
<circle cx="82.8" cy="109.7" r="2.2"/>
<circle cx="83.4" cy="110.8" r="2.2"/>
<circle cx="83.3" cy="146.9" r="2.2"/>
<circle cx="82.6" cy="145.7" r="2.2"/>
<circle cx="82.9" cy="110.6" r="2.2"/>
<circle cx="82.7" cy="101.9" r="2.2"/>
<circle cx="83" cy="119.2" r="2.2"/>
<circle cx="83.4" cy="141.7" r="2.2"/>
<circle cx="82.6" cy="120.1" r="2.2"/>
<circle cx="82.9" cy="108.9" r="2.2"/>
<circle cx="82.8" cy="113.2" r="2.2"/>
<circle cx="83.2" cy="117" r="2.2"/>
<circle cx="82.6" cy="111" r="2.2"/>
<circle cx="82.9" cy="128.2" r="2.2"/>
<circle cx="82.7" cy="135" r="2.2"/>
<circle cx="82.7" cy="133.5" r="2.2"/>
<circle cx="83.1" cy="108.8" r="2.2"/>
</g>
<rect x="42.3" y="12.4" width="211.9" height="173" fill="none" stroke="#4d4d4d" stroke-width="0.9"/>
<g stroke="#444" stroke-width="0.8">
<line x1="40.1" y1="181.4" x2="42.3" y2="181.4"/>
<line x1="40.1" y1="150.4" x2="42.3" y2="150.4"/>
<line x1="40.1" y1="119.4" x2="42.3" y2="119.4"/>
<line x1="40.1" y1="88.4" x2="42.3" y2="88.4"/>
<line x1="40.1" y1="57.4" x2="42.3" y2="57.4"/>
<line x1="40.1" y1="26.4" x2="42.3" y2="26.4"/>
<line x1="48.5" y1="185.4" x2="48.5" y2="187.6"/>
<line x1="78.7" y1="185.4" x2="78.7" y2="187.6"/>
<line x1="108.8" y1="185.4" x2="108.8" y2="187.6"/>
<line x1="138.9" y1="185.4" x2="138.9" y2="187.6"/>
<line x1="169.1" y1="185.4" x2="169.1" y2="187.6"/>
<line x1="199.2" y1="185.4" x2="199.2" y2="187.6"/>
<line x1="229.4" y1="185.4" x2="229.4" y2="187.6"/>
</g>
<g font-family='"DejaVu Sans", "Liberation Sans", sans-serif' font-size="5.8" fill="#262626" stroke="#262626" stroke-width="0.18">
<text x="37.7" y="183.5" text-anchor="end">0</text>
<text x="37.7" y="152.5" text-anchor="end">20,000</text>
<text x="37.7" y="121.5" text-anchor="end">40,000</text>
<text x="37.7" y="90.5" text-anchor="end">60,000</text>
<text x="37.7" y="59.5" text-anchor="end">80,000</text>
<text x="37.7" y="28.5" text-anchor="end">100,000</text>
<text x="48.5" y="194.6" text-anchor="middle">0</text>
<text x="78.7" y="194.6" text-anchor="middle">500</text>
<text x="108.8" y="194.6" text-anchor="middle">1000</text>
<text x="138.9" y="194.6" text-anchor="middle">1500</text>
<text x="169.1" y="194.6" text-anchor="middle">2000</text>
<text x="199.2" y="194.6" text-anchor="middle">2500</text>
<text x="229.4" y="194.6" text-anchor="middle">3000</text>
<text x="148.2" y="202.6" text-anchor="middle" font-size="6">Annual Rainfall (mm)</text>
<text transform="translate(9.9,98.9) rotate(-90)" text-anchor="middle">Yield (hg/ha)</text>
<text x="148.2" y="9.2" text-anchor="middle" font-size="7.1">Yield vs. Annual Rainfall</text>
</g>
<text x="129.2" y="223" text-anchor="middle" font-family='"Liberation Serif", "DejaVu Serif", serif' font-size="13" fill="#111">(<tspan font-weight="bold">a</tspan>)</text>
</g>
<g transform="translate(290,0)">
<g fill="#0973bd">
<circle cx="54.7" cy="36.4" r="2.2"/>
<circle cx="55.3" cy="34.6" r="2.2"/>
<circle cx="54.8" cy="37" r="2.2"/>
<circle cx="54.4" cy="35.5" r="2.2"/>
<circle cx="55" cy="41" r="2.2"/>
<circle cx="54.3" cy="31.4" r="2.2"/>
<circle cx="54.3" cy="41.3" r="2.2"/>
<circle cx="55" cy="26.3" r="2.2"/>
<circle cx="55.4" cy="44.3" r="2.2"/>
<circle cx="55" cy="37.5" r="2.2"/>
<circle cx="54.4" cy="25.8" r="2.2"/>
<circle cx="54.8" cy="26.7" r="2.2"/>
<circle cx="54.4" cy="30.2" r="2.2"/>
<circle cx="54.2" cy="34.5" r="2.2"/>
<circle cx="54.7" cy="41.9" r="2.2"/>
<circle cx="54.8" cy="38" r="2.2"/>
<circle cx="54.8" cy="38.4" r="2.2"/>
<circle cx="54.7" cy="30.9" r="2.2"/>
<circle cx="55.4" cy="44.9" r="2.2"/>
<circle cx="55.2" cy="39.3" r="2.2"/>
<circle cx="54.6" cy="30" r="2.2"/>
<circle cx="54.5" cy="26.9" r="2.2"/>
<circle cx="55.1" cy="33.3" r="2.2"/>
<circle cx="55.2" cy="33" r="2.2"/>
<circle cx="55.3" cy="42" r="2.2"/>
<circle cx="53.6" cy="47.1" r="2.2"/>
<circle cx="56.6" cy="49.7" r="2.2"/>
<circle cx="56.9" cy="49" r="2.2"/>
<circle cx="53.7" cy="51.3" r="2.2"/>
<circle cx="56.1" cy="47.7" r="2.2"/>
<circle cx="53.8" cy="48.3" r="2.2"/>
<circle cx="56.9" cy="52.6" r="2.2"/>
<circle cx="53.9" cy="47.5" r="2.2"/>
<circle cx="53.8" cy="45.6" r="2.2"/>
<circle cx="56.2" cy="46.8" r="2.2"/>
<circle cx="55.3" cy="49.5" r="2.2"/>
<circle cx="54.1" cy="52.3" r="2.2"/>
<circle cx="53.9" cy="51.4" r="2.2"/>
<circle cx="53.9" cy="49.2" r="2.2"/>
<circle cx="54.1" cy="47.7" r="2.2"/>
<circle cx="56.9" cy="53" r="2.2"/>
<circle cx="54.4" cy="53.8" r="2.2"/>
<circle cx="54.1" cy="48.9" r="2.2"/>
<circle cx="56.4" cy="51.4" r="2.2"/>
<circle cx="53.8" cy="54.9" r="2.2"/>
<circle cx="54.4" cy="57.3" r="2.2"/>
<circle cx="59.3" cy="58" r="2.2"/>
<circle cx="55.1" cy="55.7" r="2.2"/>
<circle cx="53.5" cy="60.2" r="2.2"/>
<circle cx="54.7" cy="60.4" r="2.2"/>
<circle cx="55.7" cy="59.1" r="2.2"/>
<circle cx="61.1" cy="59.4" r="2.2"/>
<circle cx="57.5" cy="62.8" r="2.2"/>
<circle cx="54.2" cy="56.4" r="2.2"/>
<circle cx="60.6" cy="62.4" r="2.2"/>
<circle cx="54.7" cy="56.7" r="2.2"/>
<circle cx="59" cy="63.5" r="2.2"/>
<circle cx="54.3" cy="63.6" r="2.2"/>
<circle cx="60.4" cy="60.4" r="2.2"/>
<circle cx="56.1" cy="55.9" r="2.2"/>
<circle cx="53.2" cy="63.7" r="2.2"/>
<circle cx="54.6" cy="61.3" r="2.2"/>
<circle cx="54.8" cy="62.4" r="2.2"/>
<circle cx="57.7" cy="57.6" r="2.2"/>
<circle cx="54.1" cy="61.5" r="2.2"/>
<circle cx="53.4" cy="57.1" r="2.2"/>
<circle cx="57.4" cy="62.7" r="2.2"/>
<circle cx="57.9" cy="57.5" r="2.2"/>
<circle cx="60.7" cy="56.8" r="2.2"/>
<circle cx="53.1" cy="57.4" r="2.2"/>
<circle cx="56.4" cy="55.5" r="2.2"/>
<circle cx="54.2" cy="58.3" r="2.2"/>
<circle cx="57.5" cy="56.2" r="2.2"/>
<circle cx="55.6" cy="63" r="2.2"/>
<circle cx="61.3" cy="60.9" r="2.2"/>
<circle cx="57.4" cy="68.7" r="2.2"/>
<circle cx="53.4" cy="64.3" r="2.2"/>
<circle cx="52.7" cy="71.3" r="2.2"/>
<circle cx="57.5" cy="71.7" r="2.2"/>
<circle cx="52.7" cy="69.1" r="2.2"/>
<circle cx="55.8" cy="69.8" r="2.2"/>
<circle cx="54.6" cy="72" r="2.2"/>
<circle cx="53" cy="68.4" r="2.2"/>
<circle cx="57.8" cy="71.2" r="2.2"/>
<circle cx="57.8" cy="69.6" r="2.2"/>
<circle cx="58.3" cy="71.3" r="2.2"/>
<circle cx="54.8" cy="69.5" r="2.2"/>
<circle cx="59.2" cy="71" r="2.2"/>
<circle cx="55.3" cy="70.3" r="2.2"/>
<circle cx="58.9" cy="68.6" r="2.2"/>
<circle cx="56.9" cy="67.1" r="2.2"/>
<circle cx="56.6" cy="68.9" r="2.2"/>
<circle cx="53" cy="69.1" r="2.2"/>
<circle cx="59.9" cy="71" r="2.2"/>
<circle cx="57.7" cy="67.1" r="2.2"/>
<circle cx="57.8" cy="68.6" r="2.2"/>
<circle cx="55.5" cy="70.7" r="2.2"/>
<circle cx="53" cy="70" r="2.2"/>
<circle cx="52.7" cy="68.8" r="2.2"/>
<circle cx="55.8" cy="65.8" r="2.2"/>
<circle cx="57.5" cy="68" r="2.2"/>
<circle cx="56.8" cy="71.4" r="2.2"/>
<circle cx="53.6" cy="70.5" r="2.2"/>
<circle cx="54" cy="97.1" r="2.2"/>
<circle cx="53.2" cy="76.8" r="2.2"/>
<circle cx="59" cy="96.4" r="2.2"/>
<circle cx="55" cy="105.7" r="2.2"/>
<circle cx="54.2" cy="96.6" r="2.2"/>
<circle cx="53.2" cy="87.2" r="2.2"/>
<circle cx="58.1" cy="106.6" r="2.2"/>
<circle cx="58.7" cy="85.4" r="2.2"/>
<circle cx="56.2" cy="82.7" r="2.2"/>
<circle cx="52.8" cy="89.9" r="2.2"/>
<circle cx="58.4" cy="103.9" r="2.2"/>
<circle cx="57.3" cy="108" r="2.2"/>
<circle cx="53.8" cy="76.8" r="2.2"/>
<circle cx="55.1" cy="81" r="2.2"/>
<circle cx="53.3" cy="86.6" r="2.2"/>
<circle cx="56.5" cy="89.8" r="2.2"/>
<circle cx="54.1" cy="103.6" r="2.2"/>
<circle cx="59.6" cy="88.1" r="2.2"/>
<circle cx="52.4" cy="71.3" r="2.2"/>
<circle cx="58.7" cy="71.7" r="2.2"/>
<circle cx="57.2" cy="92.8" r="2.2"/>
<circle cx="54" cy="101.7" r="2.2"/>
<circle cx="52.1" cy="75.4" r="2.2"/>
<circle cx="55.2" cy="71" r="2.2"/>
<circle cx="58.3" cy="79.5" r="2.2"/>
<circle cx="52.8" cy="71.9" r="2.2"/>
<circle cx="56.6" cy="87.9" r="2.2"/>
<circle cx="56.6" cy="96.2" r="2.2"/>
<circle cx="58.1" cy="108.3" r="2.2"/>
<circle cx="57" cy="78" r="2.2"/>
<circle cx="55.3" cy="77.1" r="2.2"/>
<circle cx="52" cy="88.9" r="2.2"/>
<circle cx="57.3" cy="77.2" r="2.2"/>
<circle cx="53.7" cy="83.8" r="2.2"/>
<circle cx="57.2" cy="90.8" r="2.2"/>
<circle cx="56.5" cy="100.2" r="2.2"/>
<circle cx="54.7" cy="101.7" r="2.2"/>
<circle cx="59" cy="73.5" r="2.2"/>
<circle cx="59.2" cy="98.9" r="2.2"/>
<circle cx="52.7" cy="88.1" r="2.2"/>
<circle cx="56.5" cy="106.4" r="2.2"/>
<circle cx="54.5" cy="92.8" r="2.2"/>
<circle cx="58.7" cy="101.9" r="2.2"/>
<circle cx="59.3" cy="88.5" r="2.2"/>
<circle cx="56.8" cy="78.2" r="2.2"/>
<circle cx="57.4" cy="102.7" r="2.2"/>
<circle cx="56.7" cy="98.7" r="2.2"/>
<circle cx="53.3" cy="106" r="2.2"/>
<circle cx="59.6" cy="109.1" r="2.2"/>
<circle cx="55.8" cy="101.6" r="2.2"/>
<circle cx="54.1" cy="106.4" r="2.2"/>
<circle cx="58.5" cy="83.9" r="2.2"/>
<circle cx="52.4" cy="87.6" r="2.2"/>
<circle cx="55.9" cy="100.7" r="2.2"/>
<circle cx="55.4" cy="71.1" r="2.2"/>
<circle cx="58.1" cy="72.6" r="2.2"/>
<circle cx="58" cy="76.9" r="2.2"/>
<circle cx="54.2" cy="101.5" r="2.2"/>
<circle cx="52.8" cy="75.9" r="2.2"/>
<circle cx="55.6" cy="98.9" r="2.2"/>
<circle cx="58.4" cy="97.6" r="2.2"/>
<circle cx="59.3" cy="89.7" r="2.2"/>
<circle cx="59.3" cy="73.4" r="2.2"/>
<circle cx="53.4" cy="91.1" r="2.2"/>
<circle cx="53.9" cy="99.2" r="2.2"/>
<circle cx="56.7" cy="90.9" r="2.2"/>
<circle cx="58.4" cy="92.4" r="2.2"/>
<circle cx="54" cy="85.2" r="2.2"/>
<circle cx="58.4" cy="106" r="2.2"/>
<circle cx="53.3" cy="104" r="2.2"/>
<circle cx="59.5" cy="91" r="2.2"/>
<circle cx="56.1" cy="78" r="2.2"/>
<circle cx="55.8" cy="90.1" r="2.2"/>
<circle cx="56.4" cy="71.1" r="2.2"/>
<circle cx="59.5" cy="90.6" r="2.2"/>
<circle cx="54.7" cy="102" r="2.2"/>
<circle cx="56" cy="89.6" r="2.2"/>
<circle cx="57.1" cy="72.6" r="2.2"/>
<circle cx="55.8" cy="86.6" r="2.2"/>
<circle cx="59.4" cy="106.9" r="2.2"/>
<circle cx="53.7" cy="88.9" r="2.2"/>
<circle cx="52.7" cy="87.3" r="2.2"/>
<circle cx="58.2" cy="106" r="2.2"/>
<circle cx="55.3" cy="82.7" r="2.2"/>
<circle cx="53.2" cy="94.7" r="2.2"/>
<circle cx="59.1" cy="75.2" r="2.2"/>
<circle cx="57.9" cy="70.9" r="2.2"/>
<circle cx="53.2" cy="79.1" r="2.2"/>
<circle cx="57.1" cy="82.9" r="2.2"/>
<circle cx="54.4" cy="94.8" r="2.2"/>
<circle cx="52.6" cy="99.2" r="2.2"/>
<circle cx="52.7" cy="90.4" r="2.2"/>
<circle cx="53.6" cy="77.9" r="2.2"/>
<circle cx="55.8" cy="87.5" r="2.2"/>
<circle cx="54.5" cy="86.5" r="2.2"/>
<circle cx="55.8" cy="76.4" r="2.2"/>
<circle cx="53.3" cy="95.3" r="2.2"/>
<circle cx="56.7" cy="91.2" r="2.2"/>
<circle cx="58.5" cy="94.5" r="2.2"/>
<circle cx="58.5" cy="79.3" r="2.2"/>
<circle cx="57.5" cy="102.4" r="2.2"/>
<circle cx="58.9" cy="82.6" r="2.2"/>
<circle cx="54.1" cy="106.9" r="2.2"/>
<circle cx="53.4" cy="109.9" r="2.2"/>
<circle cx="58.8" cy="75.4" r="2.2"/>
<circle cx="53.5" cy="99.1" r="2.2"/>
<circle cx="53.7" cy="73.9" r="2.2"/>
<circle cx="58.3" cy="86.9" r="2.2"/>
<circle cx="57.9" cy="75" r="2.2"/>
<circle cx="54.7" cy="97.4" r="2.2"/>
<circle cx="52.1" cy="78" r="2.2"/>
<circle cx="57" cy="106.5" r="2.2"/>
<circle cx="59.5" cy="74.6" r="2.2"/>
<circle cx="55.6" cy="100.3" r="2.2"/>
<circle cx="55.5" cy="97.4" r="2.2"/>
<circle cx="53.1" cy="72.8" r="2.2"/>
<circle cx="52.6" cy="71.5" r="2.2"/>
<circle cx="55.9" cy="90.6" r="2.2"/>
<circle cx="56.1" cy="75.9" r="2.2"/>
<circle cx="53.1" cy="78.2" r="2.2"/>
<circle cx="58.4" cy="109.6" r="2.2"/>
<circle cx="59.1" cy="73.8" r="2.2"/>
<circle cx="52.3" cy="108.1" r="2.2"/>
<circle cx="55.2" cy="100.6" r="2.2"/>
<circle cx="54.2" cy="88.7" r="2.2"/>
<circle cx="55.6" cy="87.2" r="2.2"/>
<circle cx="56.3" cy="70.5" r="2.2"/>
<circle cx="57.2" cy="103.8" r="2.2"/>
<circle cx="53.1" cy="88.2" r="2.2"/>
<circle cx="57.5" cy="86.2" r="2.2"/>
<circle cx="53.2" cy="76.6" r="2.2"/>
<circle cx="55.6" cy="70.6" r="2.2"/>
<circle cx="58.8" cy="102.1" r="2.2"/>
<circle cx="57.2" cy="104.4" r="2.2"/>
<circle cx="56.6" cy="86.2" r="2.2"/>
<circle cx="56.3" cy="90.2" r="2.2"/>
<circle cx="59.6" cy="102.2" r="2.2"/>
<circle cx="53.6" cy="106.5" r="2.2"/>
<circle cx="57.6" cy="101.1" r="2.2"/>
<circle cx="58.2" cy="86.2" r="2.2"/>
<circle cx="58.9" cy="105.2" r="2.2"/>
<circle cx="57.1" cy="100.7" r="2.2"/>
<circle cx="57.7" cy="86.2" r="2.2"/>
<circle cx="57.4" cy="72.8" r="2.2"/>
<circle cx="54.3" cy="88.8" r="2.2"/>
<circle cx="52" cy="84.2" r="2.2"/>
<circle cx="56.7" cy="95" r="2.2"/>
<circle cx="53.5" cy="107.8" r="2.2"/>
<circle cx="56.9" cy="83.5" r="2.2"/>
<circle cx="56.8" cy="92.8" r="2.2"/>
<circle cx="55.8" cy="85.6" r="2.2"/>
<circle cx="59.8" cy="95.7" r="2.2"/>
<circle cx="57.2" cy="100.5" r="2.2"/>
<circle cx="59.6" cy="70.9" r="2.2"/>
<circle cx="56.5" cy="99.6" r="2.2"/>
<circle cx="53.6" cy="86.1" r="2.2"/>
<circle cx="52.3" cy="77.8" r="2.2"/>
<circle cx="54.5" cy="73.9" r="2.2"/>
<circle cx="53.6" cy="106.2" r="2.2"/>
<circle cx="55.9" cy="90.3" r="2.2"/>
<circle cx="59.5" cy="92.7" r="2.2"/>
<circle cx="59.8" cy="95.5" r="2.2"/>
<circle cx="58.1" cy="73" r="2.2"/>
<circle cx="56.3" cy="100.4" r="2.2"/>
<circle cx="52.2" cy="107.2" r="2.2"/>
<circle cx="52.9" cy="88.9" r="2.2"/>
<circle cx="53" cy="89.8" r="2.2"/>
<circle cx="56.4" cy="72.3" r="2.2"/>
<circle cx="59.3" cy="86.8" r="2.2"/>
<circle cx="55.7" cy="93.9" r="2.2"/>
<circle cx="54.5" cy="81.4" r="2.2"/>
<circle cx="56.8" cy="92.4" r="2.2"/>
<circle cx="53.8" cy="98.7" r="2.2"/>
<circle cx="53.9" cy="70.6" r="2.2"/>
<circle cx="53.5" cy="71.7" r="2.2"/>
<circle cx="52.9" cy="100.2" r="2.2"/>
<circle cx="54.6" cy="105.9" r="2.2"/>
<circle cx="57.6" cy="72" r="2.2"/>
<circle cx="59.7" cy="107.8" r="2.2"/>
<circle cx="52.4" cy="106.2" r="2.2"/>
<circle cx="55" cy="89.1" r="2.2"/>
<circle cx="59.6" cy="79.7" r="2.2"/>
<circle cx="55.7" cy="107.5" r="2.2"/>
<circle cx="57.4" cy="88.7" r="2.2"/>
<circle cx="59.6" cy="102.7" r="2.2"/>
<circle cx="56.4" cy="74.6" r="2.2"/>
<circle cx="56.5" cy="88.2" r="2.2"/>
<circle cx="53.3" cy="72.1" r="2.2"/>
<circle cx="55.7" cy="75" r="2.2"/>
<circle cx="55.1" cy="96.7" r="2.2"/>
<circle cx="55.2" cy="80.5" r="2.2"/>
<circle cx="56.7" cy="117.6" r="2.2"/>
<circle cx="58.5" cy="119.6" r="2.2"/>
<circle cx="60.6" cy="127.1" r="2.2"/>
<circle cx="58.1" cy="114.3" r="2.2"/>
<circle cx="52.8" cy="126.1" r="2.2"/>
<circle cx="58.6" cy="121.2" r="2.2"/>
<circle cx="54.8" cy="114.9" r="2.2"/>
<circle cx="57.7" cy="120.2" r="2.2"/>
<circle cx="56.8" cy="121.4" r="2.2"/>
<circle cx="58.3" cy="113.4" r="2.2"/>
<circle cx="53.9" cy="127.6" r="2.2"/>
<circle cx="59.8" cy="125.8" r="2.2"/>
<circle cx="52.2" cy="111.1" r="2.2"/>
<circle cx="54" cy="117.7" r="2.2"/>
<circle cx="57.1" cy="111.8" r="2.2"/>
<circle cx="56.4" cy="111.3" r="2.2"/>
<circle cx="52.6" cy="122.2" r="2.2"/>
<circle cx="56.5" cy="121.4" r="2.2"/>
<circle cx="54.9" cy="118.6" r="2.2"/>
<circle cx="53.6" cy="116.2" r="2.2"/>
<circle cx="58.2" cy="125.1" r="2.2"/>
<circle cx="52.5" cy="112.2" r="2.2"/>
<circle cx="58.8" cy="121.2" r="2.2"/>
<circle cx="58.4" cy="113.8" r="2.2"/>
<circle cx="55.3" cy="114.6" r="2.2"/>
<circle cx="58.8" cy="116.6" r="2.2"/>
<circle cx="57.4" cy="127.8" r="2.2"/>
<circle cx="54.5" cy="119.9" r="2.2"/>
<circle cx="58.2" cy="126.6" r="2.2"/>
<circle cx="55.4" cy="116.6" r="2.2"/>
<circle cx="52.7" cy="125.8" r="2.2"/>
<circle cx="52.5" cy="111.5" r="2.2"/>
<circle cx="56.6" cy="118.7" r="2.2"/>
<circle cx="57.7" cy="115.4" r="2.2"/>
<circle cx="58.5" cy="111.4" r="2.2"/>
<circle cx="53.6" cy="121.9" r="2.2"/>
<circle cx="52.5" cy="115.5" r="2.2"/>
<circle cx="58" cy="122.5" r="2.2"/>
<circle cx="54.1" cy="112.6" r="2.2"/>
<circle cx="54.8" cy="123.1" r="2.2"/>
<circle cx="54.8" cy="112.1" r="2.2"/>
<circle cx="57.9" cy="120.2" r="2.2"/>
<circle cx="59.8" cy="126.9" r="2.2"/>
<circle cx="59.8" cy="117.9" r="2.2"/>
<circle cx="58.8" cy="115.5" r="2.2"/>
<circle cx="54.4" cy="117.2" r="2.2"/>
<circle cx="60" cy="126.1" r="2.2"/>
<circle cx="53.9" cy="116.5" r="2.2"/>
<circle cx="54.8" cy="116.5" r="2.2"/>
<circle cx="55.1" cy="117" r="2.2"/>
<circle cx="53.4" cy="120.1" r="2.2"/>
<circle cx="58.7" cy="119.7" r="2.2"/>
<circle cx="59.1" cy="120.1" r="2.2"/>
<circle cx="53.3" cy="123.7" r="2.2"/>
<circle cx="59.5" cy="115.1" r="2.2"/>
<circle cx="52.1" cy="119.3" r="2.2"/>
<circle cx="56.4" cy="120.2" r="2.2"/>
<circle cx="60.3" cy="121.7" r="2.2"/>
<circle cx="58.8" cy="111.2" r="2.2"/>
<circle cx="56.4" cy="124.2" r="2.2"/>
<circle cx="52.6" cy="111.5" r="2.2"/>
<circle cx="58.1" cy="126.2" r="2.2"/>
<circle cx="52.6" cy="121.4" r="2.2"/>
<circle cx="53" cy="123.4" r="2.2"/>
<circle cx="57.3" cy="114.4" r="2.2"/>
<circle cx="53.6" cy="123.8" r="2.2"/>
<circle cx="56.2" cy="123.8" r="2.2"/>
<circle cx="55.1" cy="116.1" r="2.2"/>
<circle cx="60.3" cy="122.1" r="2.2"/>
<circle cx="56" cy="119.7" r="2.2"/>
<circle cx="58" cy="122.7" r="2.2"/>
<circle cx="59.8" cy="117.4" r="2.2"/>
<circle cx="59" cy="122" r="2.2"/>
<circle cx="59.2" cy="124.5" r="2.2"/>
<circle cx="59" cy="126" r="2.2"/>
<circle cx="60.2" cy="121.5" r="2.2"/>
<circle cx="56.2" cy="122.8" r="2.2"/>
<circle cx="58.7" cy="117.6" r="2.2"/>
<circle cx="55.3" cy="112.6" r="2.2"/>
<circle cx="58.2" cy="127.8" r="2.2"/>
<circle cx="54.9" cy="113" r="2.2"/>
<circle cx="53.5" cy="117.6" r="2.2"/>
<circle cx="54.2" cy="127.5" r="2.2"/>
<circle cx="52.4" cy="115.6" r="2.2"/>
<circle cx="52.8" cy="121.7" r="2.2"/>
<circle cx="58.5" cy="113.2" r="2.2"/>
<circle cx="52.4" cy="118.3" r="2.2"/>
<circle cx="56.8" cy="126.4" r="2.2"/>
<circle cx="52.2" cy="112" r="2.2"/>
<circle cx="53.3" cy="113.9" r="2.2"/>
<circle cx="54.6" cy="135.3" r="2.2"/>
<circle cx="60.9" cy="128.9" r="2.2"/>
<circle cx="53.8" cy="129.7" r="2.2"/>
<circle cx="53.7" cy="135.8" r="2.2"/>
<circle cx="55.7" cy="133.1" r="2.2"/>
<circle cx="65.7" cy="132.2" r="2.2"/>
<circle cx="54.9" cy="137.5" r="2.2"/>
<circle cx="67.9" cy="130.4" r="2.2"/>
<circle cx="60" cy="138.4" r="2.2"/>
<circle cx="58.7" cy="128.9" r="2.2"/>
<circle cx="52.3" cy="138.3" r="2.2"/>
<circle cx="65.4" cy="131" r="2.2"/>
<circle cx="59.6" cy="132.7" r="2.2"/>
<circle cx="55.1" cy="138.9" r="2.2"/>
<circle cx="62.2" cy="129.1" r="2.2"/>
<circle cx="52" cy="132.1" r="2.2"/>
<circle cx="56.7" cy="136.4" r="2.2"/>
<circle cx="63.4" cy="133.9" r="2.2"/>
<circle cx="53.5" cy="128" r="2.2"/>
<circle cx="55.9" cy="129.4" r="2.2"/>
<circle cx="66.9" cy="132.7" r="2.2"/>
<circle cx="61.8" cy="138.9" r="2.2"/>
<circle cx="55" cy="132.9" r="2.2"/>
<circle cx="53.4" cy="136" r="2.2"/>
<circle cx="52" cy="136.7" r="2.2"/>
<circle cx="66.4" cy="136.7" r="2.2"/>
<circle cx="52.6" cy="129.5" r="2.2"/>
<circle cx="63.5" cy="127.3" r="2.2"/>
<circle cx="58.7" cy="132.1" r="2.2"/>
<circle cx="68.9" cy="133.6" r="2.2"/>
<circle cx="66.6" cy="129.9" r="2.2"/>
<circle cx="65.1" cy="131.4" r="2.2"/>
<circle cx="68" cy="127.2" r="2.2"/>
<circle cx="65.9" cy="128.7" r="2.2"/>
<circle cx="59.9" cy="132.8" r="2.2"/>
<circle cx="53.5" cy="136.8" r="2.2"/>
<circle cx="55.7" cy="130" r="2.2"/>
<circle cx="52.6" cy="130" r="2.2"/>
<circle cx="58.4" cy="135.3" r="2.2"/>
<circle cx="56.5" cy="134.9" r="2.2"/>
<circle cx="52.9" cy="131.1" r="2.2"/>
<circle cx="58.3" cy="138.6" r="2.2"/>
<circle cx="66" cy="134.5" r="2.2"/>
<circle cx="52" cy="130.9" r="2.2"/>
<circle cx="63.3" cy="129.1" r="2.2"/>
<circle cx="60.3" cy="132" r="2.2"/>
<circle cx="52" cy="138.9" r="2.2"/>
<circle cx="65.3" cy="128.7" r="2.2"/>
<circle cx="61.4" cy="129.8" r="2.2"/>
<circle cx="56.8" cy="133" r="2.2"/>
<circle cx="55.5" cy="130.4" r="2.2"/>
<circle cx="57.1" cy="134.7" r="2.2"/>
<circle cx="54.9" cy="128.6" r="2.2"/>
<circle cx="63.8" cy="130.3" r="2.2"/>
<circle cx="68.7" cy="133.3" r="2.2"/>
<circle cx="63.6" cy="130.3" r="2.2"/>
<circle cx="65.9" cy="127.2" r="2.2"/>
<circle cx="53.3" cy="127.2" r="2.2"/>
<circle cx="62.6" cy="135.2" r="2.2"/>
<circle cx="53.8" cy="131.2" r="2.2"/>
<circle cx="66.2" cy="133.7" r="2.2"/>
<circle cx="52.7" cy="128.9" r="2.2"/>
<circle cx="53.5" cy="127.6" r="2.2"/>
<circle cx="57.3" cy="126.9" r="2.2"/>
<circle cx="68.1" cy="131.6" r="2.2"/>
<circle cx="59.3" cy="134.4" r="2.2"/>
<circle cx="64.6" cy="136.7" r="2.2"/>
<circle cx="57" cy="130.3" r="2.2"/>
<circle cx="57.4" cy="126.2" r="2.2"/>
<circle cx="57.2" cy="135.1" r="2.2"/>
<circle cx="69.6" cy="136.3" r="2.2"/>
<circle cx="62.3" cy="133.9" r="2.2"/>
<circle cx="52.1" cy="130.3" r="2.2"/>
<circle cx="56.2" cy="134.5" r="2.2"/>
<circle cx="52.9" cy="130.9" r="2.2"/>
<circle cx="59.2" cy="136.3" r="2.2"/>
<circle cx="65.9" cy="133.9" r="2.2"/>
<circle cx="53.5" cy="136" r="2.2"/>
<circle cx="67.7" cy="133.1" r="2.2"/>
<circle cx="56.4" cy="132.5" r="2.2"/>
<circle cx="53.3" cy="135.3" r="2.2"/>
<circle cx="69.7" cy="132.7" r="2.2"/>
<circle cx="63.5" cy="136.9" r="2.2"/>
<circle cx="54" cy="138.3" r="2.2"/>
<circle cx="59" cy="140" r="2.2"/>
<circle cx="52.7" cy="140.4" r="2.2"/>
<circle cx="58.4" cy="145" r="2.2"/>
<circle cx="55.3" cy="147.3" r="2.2"/>
<circle cx="55.7" cy="142.6" r="2.2"/>
<circle cx="53.1" cy="147.7" r="2.2"/>
<circle cx="53.2" cy="147" r="2.2"/>
<circle cx="58" cy="143.6" r="2.2"/>
<circle cx="58.2" cy="140.6" r="2.2"/>
<circle cx="62.8" cy="147.9" r="2.2"/>
<circle cx="61.5" cy="144" r="2.2"/>
<circle cx="53.1" cy="146.2" r="2.2"/>
<circle cx="54.9" cy="147" r="2.2"/>
<circle cx="54.3" cy="143.7" r="2.2"/>
<circle cx="61.7" cy="139.9" r="2.2"/>
<circle cx="58" cy="138.8" r="2.2"/>
<circle cx="52.2" cy="139.8" r="2.2"/>
<circle cx="63.8" cy="147.4" r="2.2"/>
<circle cx="59.4" cy="141.1" r="2.2"/>
<circle cx="59.6" cy="145.4" r="2.2"/>
<circle cx="56" cy="143.9" r="2.2"/>
<circle cx="61.3" cy="138.2" r="2.2"/>
<circle cx="53.9" cy="142.7" r="2.2"/>
<circle cx="53.3" cy="141.9" r="2.2"/>
<circle cx="58.3" cy="139.7" r="2.2"/>
<circle cx="57.7" cy="140.6" r="2.2"/>
<circle cx="58.3" cy="141.3" r="2.2"/>
<circle cx="59.2" cy="138.4" r="2.2"/>
<circle cx="59.6" cy="139.4" r="2.2"/>
<circle cx="63.4" cy="144" r="2.2"/>
<circle cx="57" cy="142.1" r="2.2"/>
<circle cx="59" cy="144.9" r="2.2"/>
<circle cx="60.7" cy="145.5" r="2.2"/>
<circle cx="57.2" cy="147.9" r="2.2"/>
<circle cx="61.8" cy="146.6" r="2.2"/>
<circle cx="56.3" cy="142.3" r="2.2"/>
<circle cx="58.2" cy="147.1" r="2.2"/>
<circle cx="57.7" cy="143.3" r="2.2"/>
<circle cx="56.6" cy="147" r="2.2"/>
<circle cx="55.2" cy="138.5" r="2.2"/>
<circle cx="60.3" cy="147" r="2.2"/>
<circle cx="60.4" cy="144" r="2.2"/>
<circle cx="60.6" cy="141" r="2.2"/>
<circle cx="58.6" cy="138.7" r="2.2"/>
<circle cx="53.1" cy="142.5" r="2.2"/>
<circle cx="57.4" cy="142" r="2.2"/>
<circle cx="52.1" cy="157" r="2.2"/>
<circle cx="53.4" cy="151.1" r="2.2"/>
<circle cx="52.8" cy="153.1" r="2.2"/>
<circle cx="52.6" cy="148.9" r="2.2"/>
<circle cx="54.5" cy="160.6" r="2.2"/>
<circle cx="53.8" cy="159.3" r="2.2"/>
<circle cx="53.1" cy="158.5" r="2.2"/>
<circle cx="52.6" cy="157.7" r="2.2"/>
<circle cx="53.5" cy="159.7" r="2.2"/>
<circle cx="52.3" cy="158.3" r="2.2"/>
<circle cx="52.3" cy="155" r="2.2"/>
<circle cx="54.6" cy="148" r="2.2"/>
<circle cx="52.7" cy="151.9" r="2.2"/>
<circle cx="52.9" cy="148.8" r="2.2"/>
<circle cx="54.4" cy="158.6" r="2.2"/>
<circle cx="53.1" cy="152.6" r="2.2"/>
<circle cx="53.6" cy="148.6" r="2.2"/>
<circle cx="52.1" cy="159.7" r="2.2"/>
<circle cx="52.8" cy="154.5" r="2.2"/>
<circle cx="54.5" cy="160.7" r="2.2"/>
<circle cx="53.3" cy="150.7" r="2.2"/>
<circle cx="52.8" cy="160" r="2.2"/>
<circle cx="54.4" cy="150.5" r="2.2"/>
<circle cx="54.3" cy="152.6" r="2.2"/>
<circle cx="53.3" cy="150.2" r="2.2"/>
<circle cx="54.4" cy="160.9" r="2.2"/>
<circle cx="52.5" cy="156.2" r="2.2"/>
<circle cx="52.5" cy="159.4" r="2.2"/>
<circle cx="52.1" cy="149.4" r="2.2"/>
<circle cx="54" cy="152.1" r="2.2"/>
<circle cx="54.4" cy="159.3" r="2.2"/>
<circle cx="53.9" cy="149.8" r="2.2"/>
<circle cx="53.9" cy="160.2" r="2.2"/>
<circle cx="59.2" cy="147.1" r="2.2"/>
<circle cx="58.3" cy="150.3" r="2.2"/>
<circle cx="60.2" cy="148.8" r="2.2"/>
<circle cx="58.2" cy="149.3" r="2.2"/>
<circle cx="60" cy="157.1" r="2.2"/>
<circle cx="58.9" cy="155.3" r="2.2"/>
<circle cx="60.9" cy="154.3" r="2.2"/>
<circle cx="58.4" cy="150.2" r="2.2"/>
<circle cx="61" cy="155.3" r="2.2"/>
<circle cx="58.6" cy="155" r="2.2"/>
<circle cx="57.8" cy="159.8" r="2.2"/>
<circle cx="59.2" cy="153.4" r="2.2"/>
<circle cx="59.5" cy="146.6" r="2.2"/>
<circle cx="59.8" cy="150" r="2.2"/>
<circle cx="52.5" cy="165" r="2.2"/>
<circle cx="52.2" cy="162.4" r="2.2"/>
<circle cx="53.5" cy="162.2" r="2.2"/>
<circle cx="52.6" cy="163.7" r="2.2"/>
<circle cx="52.4" cy="165.5" r="2.2"/>
<circle cx="54" cy="161.2" r="2.2"/>
<circle cx="52.9" cy="164.8" r="2.2"/>
<circle cx="52.8" cy="165.6" r="2.2"/>
<circle cx="53" cy="161.9" r="2.2"/>
<circle cx="53.1" cy="164.2" r="2.2"/>
<circle cx="52.7" cy="164.3" r="2.2"/>
<circle cx="53" cy="171.6" r="2.2"/>
<circle cx="52.7" cy="175.1" r="2.2"/>
<circle cx="52.9" cy="171.6" r="2.2"/>
<circle cx="53.2" cy="167.9" r="2.2"/>
<circle cx="53" cy="167.8" r="2.2"/>
<circle cx="52.8" cy="168.5" r="2.2"/>
<circle cx="52.6" cy="174.3" r="2.2"/>
<circle cx="53" cy="174.5" r="2.2"/>
<circle cx="52.3" cy="171.3" r="2.2"/>
<circle cx="52.3" cy="172.3" r="2.2"/>
<circle cx="52.6" cy="166.4" r="2.2"/>
<circle cx="52.8" cy="173.7" r="2.2"/>
<circle cx="52.7" cy="175.4" r="2.2"/>
<circle cx="52.2" cy="167.6" r="2.2"/>
<circle cx="52" cy="171.4" r="2.2"/>
<circle cx="52.6" cy="170.8" r="2.2"/>
<circle cx="52.3" cy="174.6" r="2.2"/>
<circle cx="52.1" cy="175.8" r="2.2"/>
<circle cx="52.7" cy="171.9" r="2.2"/>
<circle cx="67.9" cy="102.9" r="2.2"/>
<circle cx="62.7" cy="110.7" r="2.2"/>
<circle cx="67.7" cy="105.9" r="2.2"/>
<circle cx="65.4" cy="108.9" r="2.2"/>
<circle cx="62.4" cy="112" r="2.2"/>
<circle cx="69.7" cy="107.3" r="2.2"/>
<circle cx="62.1" cy="114.5" r="2.2"/>
<circle cx="66.1" cy="110.8" r="2.2"/>
<circle cx="67.6" cy="111.1" r="2.2"/>
<circle cx="63.1" cy="115" r="2.2"/>
<circle cx="61.2" cy="117.2" r="2.2"/>
<circle cx="62.8" cy="113" r="2.2"/>
<circle cx="63.9" cy="107.7" r="2.2"/>
<circle cx="72.1" cy="102.6" r="2.2"/>
<circle cx="63" cy="112.9" r="2.2"/>
<circle cx="64" cy="114.4" r="2.2"/>
<circle cx="64.5" cy="112.9" r="2.2"/>
<circle cx="65.4" cy="106.7" r="2.2"/>
<circle cx="65.9" cy="105.9" r="2.2"/>
<circle cx="69.9" cy="106.3" r="2.2"/>
<circle cx="69.8" cy="102.7" r="2.2"/>
<circle cx="69.1" cy="105" r="2.2"/>
<circle cx="63.3" cy="111.5" r="2.2"/>
<circle cx="65.4" cy="106.7" r="2.2"/>
<circle cx="63.8" cy="112" r="2.2"/>
<circle cx="68.2" cy="110.3" r="2.2"/>
<circle cx="87.6" cy="137.7" r="2.2"/>
<circle cx="78" cy="130.1" r="2.2"/>
<circle cx="78" cy="131.2" r="2.2"/>
<circle cx="79.5" cy="134.4" r="2.2"/>
<circle cx="85.7" cy="136.2" r="2.2"/>
<circle cx="80.3" cy="130.8" r="2.2"/>
<circle cx="88.5" cy="139.1" r="2.2"/>
<circle cx="75.5" cy="129.7" r="2.2"/>
<circle cx="79" cy="130" r="2.2"/>
<circle cx="87.6" cy="135.3" r="2.2"/>
<circle cx="80.7" cy="131.7" r="2.2"/>
<circle cx="78.7" cy="129.3" r="2.2"/>
<circle cx="80.3" cy="133.2" r="2.2"/>
<circle cx="79" cy="130.2" r="2.2"/>
<circle cx="87.6" cy="135.3" r="2.2"/>
<circle cx="78.1" cy="132.9" r="2.2"/>
<circle cx="71.4" cy="124.8" r="2.2"/>
<circle cx="66.9" cy="123.3" r="2.2"/>
<circle cx="66" cy="122.5" r="2.2"/>
<circle cx="77.3" cy="124.9" r="2.2"/>
<circle cx="84.9" cy="124.9" r="2.2"/>
<circle cx="83.3" cy="124.9" r="2.2"/>
<circle cx="79.1" cy="125.1" r="2.2"/>
<circle cx="68" cy="122.7" r="2.2"/>
<circle cx="72" cy="122.8" r="2.2"/>
<circle cx="70.8" cy="123.9" r="2.2"/>
<circle cx="67.9" cy="123.5" r="2.2"/>
<circle cx="72.6" cy="124.4" r="2.2"/>
<circle cx="66.7" cy="123.3" r="2.2"/>
<circle cx="71.3" cy="124.1" r="2.2"/>
<circle cx="70.8" cy="133.4" r="2.2"/>
<circle cx="70.8" cy="124.4" r="2.2"/>
<circle cx="66.5" cy="130.2" r="2.2"/>
<circle cx="61.9" cy="130.9" r="2.2"/>
<circle cx="61.8" cy="132.4" r="2.2"/>
<circle cx="69.2" cy="132" r="2.2"/>
<circle cx="65.6" cy="128.3" r="2.2"/>
<circle cx="61.3" cy="129.9" r="2.2"/>
<circle cx="73.5" cy="133.6" r="2.2"/>
<circle cx="64.7" cy="135.4" r="2.2"/>
<circle cx="63.6" cy="132" r="2.2"/>
<circle cx="69.6" cy="140.2" r="2.2"/>
<circle cx="66.1" cy="133.8" r="2.2"/>
<circle cx="74.2" cy="137.1" r="2.2"/>
<circle cx="69.8" cy="134.6" r="2.2"/>
<circle cx="66.8" cy="131.1" r="2.2"/>
<circle cx="64.9" cy="138.1" r="2.2"/>
<circle cx="73.3" cy="130.5" r="2.2"/>
<circle cx="73.7" cy="124.6" r="2.2"/>
<circle cx="62.9" cy="132.6" r="2.2"/>
<circle cx="65.3" cy="130.1" r="2.2"/>
<circle cx="74.7" cy="126.5" r="2.2"/>
<circle cx="63.7" cy="127.9" r="2.2"/>
<circle cx="70.5" cy="128" r="2.2"/>
<circle cx="61" cy="133.2" r="2.2"/>
<circle cx="66.5" cy="128.1" r="2.2"/>
<circle cx="67.9" cy="135.1" r="2.2"/>
<circle cx="68.7" cy="134.6" r="2.2"/>
<circle cx="68.9" cy="138.1" r="2.2"/>
<circle cx="74.6" cy="129.7" r="2.2"/>
<circle cx="62.1" cy="146.1" r="2.2"/>
<circle cx="61.9" cy="144.7" r="2.2"/>
<circle cx="64.2" cy="144.5" r="2.2"/>
<circle cx="65.8" cy="145.6" r="2.2"/>
<circle cx="61" cy="144" r="2.2"/>
<circle cx="62.9" cy="143.5" r="2.2"/>
<circle cx="73.8" cy="20.5" r="2.2"/>
<circle cx="75.8" cy="23.1" r="2.2"/>
<circle cx="57.4" cy="25.1" r="2.2"/>
<circle cx="54.8" cy="26.4" r="2.2"/>
<circle cx="55.1" cy="29" r="2.2"/>
<circle cx="70.8" cy="29" r="2.2"/>
<circle cx="58.4" cy="32.3" r="2.2"/>
<circle cx="59" cy="34.3" r="2.2"/>
<circle cx="76.7" cy="33.2" r="2.2"/>
<circle cx="71.5" cy="35.3" r="2.2"/>
<circle cx="69.5" cy="36.9" r="2.2"/>
<circle cx="69.2" cy="39.5" r="2.2"/>
<circle cx="77.1" cy="43.4" r="2.2"/>
<circle cx="61.6" cy="44.5" r="2.2"/>
<circle cx="63.6" cy="44.1" r="2.2"/>
<circle cx="65.3" cy="44.7" r="2.2"/>
<circle cx="61.6" cy="51.3" r="2.2"/>
<circle cx="72.1" cy="50.2" r="2.2"/>
<circle cx="71.1" cy="51.9" r="2.2"/>
<circle cx="68.8" cy="53.6" r="2.2"/>
<circle cx="66.2" cy="54.1" r="2.2"/>
<circle cx="63.6" cy="54.5" r="2.2"/>
<circle cx="77.3" cy="57.8" r="2.2"/>
<circle cx="80.6" cy="61.1" r="2.2"/>
<circle cx="80" cy="63.7" r="2.2"/>
<circle cx="70.1" cy="62.4" r="2.2"/>
<circle cx="72.8" cy="63" r="2.2"/>
<circle cx="74.7" cy="63.3" r="2.2"/>
<circle cx="69.5" cy="65" r="2.2"/>
<circle cx="64.3" cy="62.4" r="2.2"/>
<circle cx="63" cy="59.1" r="2.2"/>
<circle cx="73.4" cy="68.9" r="2.2"/>
<circle cx="76.7" cy="69.6" r="2.2"/>
<circle cx="71.1" cy="70.2" r="2.2"/>
<circle cx="86.5" cy="71.6" r="2.2"/>
<circle cx="77.8" cy="57.7" r="2.2"/>
<circle cx="81.1" cy="60.5" r="2.2"/>
<circle cx="80.5" cy="63.7" r="2.2"/>
<circle cx="70.2" cy="62.6" r="2.2"/>
<circle cx="73.4" cy="63.2" r="2.2"/>
<circle cx="69.6" cy="65.4" r="2.2"/>
<circle cx="72.9" cy="69.2" r="2.2"/>
<circle cx="76.7" cy="69.7" r="2.2"/>
<circle cx="69.6" cy="72.4" r="2.2"/>
<circle cx="73.4" cy="73" r="2.2"/>
<circle cx="68.5" cy="75.7" r="2.2"/>
<circle cx="71.8" cy="76.3" r="2.2"/>
<circle cx="66.9" cy="78.4" r="2.2"/>
<circle cx="70.2" cy="80.1" r="2.2"/>
<circle cx="68" cy="82.8" r="2.2"/>
<circle cx="72.4" cy="83.9" r="2.2"/>
<circle cx="69.6" cy="85" r="2.2"/>
<circle cx="66.4" cy="87.2" r="2.2"/>
<circle cx="70.7" cy="90.4" r="2.2"/>
<circle cx="86" cy="71.9" r="2.2"/>
<circle cx="79.4" cy="74.6" r="2.2"/>
<circle cx="82.7" cy="75.2" r="2.2"/>
<circle cx="87.1" cy="75.7" r="2.2"/>
<circle cx="78.9" cy="78.4" r="2.2"/>
<circle cx="82.2" cy="79.5" r="2.2"/>
<circle cx="84.9" cy="81.2" r="2.2"/>
<circle cx="88.2" cy="79" r="2.2"/>
<circle cx="91.4" cy="75.7" r="2.2"/>
<circle cx="94.7" cy="75.7" r="2.2"/>
<circle cx="98" cy="75.2" r="2.2"/>
<circle cx="104.5" cy="76.3" r="2.2"/>
<circle cx="86" cy="86.6" r="2.2"/>
<circle cx="84.9" cy="92.1" r="2.2"/>
<circle cx="82.7" cy="96.4" r="2.2"/>
<circle cx="83.8" cy="100.8" r="2.2"/>
<circle cx="104" cy="87.7" r="2.2"/>
<circle cx="101.3" cy="91" r="2.2"/>
<circle cx="107.8" cy="92.1" r="2.2"/>
<circle cx="109.4" cy="89.9" r="2.2"/>
<circle cx="104.5" cy="98.1" r="2.2"/>
<circle cx="102.9" cy="99.7" r="2.2"/>
<circle cx="96.9" cy="99.7" r="2.2"/>
<circle cx="65.8" cy="100.3" r="2.2"/>
<circle cx="70.2" cy="102.4" r="2.2"/>
<circle cx="79.4" cy="102.4" r="2.2"/>
<circle cx="77.3" cy="103.5" r="2.2"/>
<circle cx="77.1" cy="69.8" r="2.2"/>
<circle cx="86.4" cy="71.5" r="2.2"/>
<circle cx="80.4" cy="73.6" r="2.2"/>
<circle cx="83.1" cy="75.3" r="2.2"/>
<circle cx="79.3" cy="76.9" r="2.2"/>
<circle cx="81.5" cy="79.1" r="2.2"/>
<circle cx="90.2" cy="75.8" r="2.2"/>
<circle cx="93.4" cy="75.8" r="2.2"/>
<circle cx="97.3" cy="75.3" r="2.2"/>
<circle cx="104.4" cy="76.4" r="2.2"/>
<circle cx="123.1" cy="77.8" r="2.2"/>
<circle cx="86.9" cy="78" r="2.2"/>
<circle cx="91.3" cy="79.1" r="2.2"/>
<circle cx="94.5" cy="79.6" r="2.2"/>
<circle cx="86.9" cy="82.4" r="2.2"/>
<circle cx="89.1" cy="84.5" r="2.2"/>
<circle cx="92.4" cy="83.4" r="2.2"/>
<circle cx="96.7" cy="83.4" r="2.2"/>
<circle cx="101.1" cy="83.4" r="2.2"/>
<circle cx="112" cy="86.7" r="2.2"/>
<circle cx="109.3" cy="89.4" r="2.2"/>
<circle cx="107.6" cy="91.6" r="2.2"/>
<circle cx="104.4" cy="87.3" r="2.2"/>
<circle cx="102.7" cy="89.4" r="2.2"/>
<circle cx="86.9" cy="87.8" r="2.2"/>
<circle cx="90.2" cy="91.1" r="2.2"/>
<circle cx="93.4" cy="92.2" r="2.2"/>
<circle cx="97.3" cy="90.5" r="2.2"/>
<circle cx="98.9" cy="93.3" r="2.2"/>
<circle cx="84.7" cy="92.2" r="2.2"/>
<circle cx="83.6" cy="95.4" r="2.2"/>
<circle cx="82.5" cy="97.6" r="2.2"/>
<circle cx="89.1" cy="96" r="2.2"/>
<circle cx="92.4" cy="97.6" r="2.2"/>
<circle cx="96.2" cy="99.3" r="2.2"/>
<circle cx="103.3" cy="98.2" r="2.2"/>
<circle cx="105.4" cy="98.7" r="2.2"/>
<circle cx="79.3" cy="102" r="2.2"/>
<circle cx="77.6" cy="105.3" r="2.2"/>
<circle cx="77.1" cy="108" r="2.2"/>
<circle cx="85.8" cy="100.9" r="2.2"/>
<circle cx="86.4" cy="104.2" r="2.2"/>
<circle cx="84.7" cy="107.4" r="2.2"/>
<circle cx="84.2" cy="111.8" r="2.2"/>
<circle cx="100" cy="104.2" r="2.2"/>
<circle cx="95.1" cy="105.3" r="2.2"/>
<circle cx="92.4" cy="108" r="2.2"/>
<circle cx="94" cy="109.6" r="2.2"/>
<circle cx="96.7" cy="107.4" r="2.2"/>
<circle cx="98.9" cy="110.2" r="2.2"/>
<circle cx="107.1" cy="106.6" r="2.2"/>
<circle cx="113.6" cy="106.3" r="2.2"/>
<circle cx="103.5" cy="110.5" r="2.2"/>
<circle cx="91" cy="83.3" r="2.2"/>
<circle cx="96.7" cy="88.7" r="2.2"/>
<circle cx="89.1" cy="82.5" r="2.2"/>
<circle cx="90.4" cy="80.9" r="2.2"/>
<circle cx="93.2" cy="79.8" r="2.2"/>
<circle cx="86.4" cy="78.5" r="2.2"/>
<circle cx="87" cy="92.5" r="2.2"/>
<circle cx="87.2" cy="86.9" r="2.2"/>
<circle cx="97.1" cy="87.6" r="2.2"/>
<circle cx="87.9" cy="96.1" r="2.2"/>
<circle cx="98.5" cy="78.2" r="2.2"/>
<circle cx="89.3" cy="88.2" r="2.2"/>
<circle cx="97.4" cy="85.6" r="2.2"/>
<circle cx="96.2" cy="82.5" r="2.2"/>
<circle cx="96.2" cy="84.2" r="2.2"/>
<circle cx="90.5" cy="93.7" r="2.2"/>
<circle cx="96.1" cy="90.7" r="2.2"/>
<circle cx="87.4" cy="85.3" r="2.2"/>
<circle cx="95.5" cy="82.1" r="2.2"/>
<circle cx="88.3" cy="77.3" r="2.2"/>
<circle cx="94.3" cy="97.7" r="2.2"/>
<circle cx="100.1" cy="79.9" r="2.2"/>
<circle cx="86.2" cy="92.7" r="2.2"/>
<circle cx="87.3" cy="77.9" r="2.2"/>
<circle cx="89.8" cy="93.1" r="2.2"/>
<circle cx="100.4" cy="79.6" r="2.2"/>
<circle cx="90.5" cy="77.6" r="2.2"/>
<circle cx="91.1" cy="83.8" r="2.2"/>
<circle cx="70.7" cy="103.3" r="2.2"/>
<circle cx="68.5" cy="106.5" r="2.2"/>
<circle cx="66.4" cy="110.9" r="2.2"/>
<circle cx="64.2" cy="116.4" r="2.2"/>
<circle cx="77.3" cy="104.9" r="2.2"/>
<circle cx="79.4" cy="107.6" r="2.2"/>
<circle cx="82.7" cy="104.4" r="2.2"/>
<circle cx="84.9" cy="106.5" r="2.2"/>
<circle cx="84.4" cy="110.9" r="2.2"/>
<circle cx="77.3" cy="116.9" r="2.2"/>
<circle cx="86" cy="116.9" r="2.2"/>
<circle cx="87.1" cy="120.2" r="2.2"/>
<circle cx="86" cy="123.4" r="2.2"/>
<circle cx="82.7" cy="121.3" r="2.2"/>
<circle cx="80" cy="120.2" r="2.2"/>
<circle cx="66.4" cy="122.4" r="2.2"/>
<circle cx="70.2" cy="123.4" r="2.2"/>
<circle cx="73.4" cy="122.9" r="2.2"/>
<circle cx="77.3" cy="124.5" r="2.2"/>
<circle cx="81.6" cy="125.1" r="2.2"/>
<circle cx="71.8" cy="128.4" r="2.2"/>
<circle cx="75.1" cy="131.6" r="2.2"/>
<circle cx="73.4" cy="136" r="2.2"/>
<circle cx="74" cy="140.3" r="2.2"/>
<circle cx="68" cy="129" r="2.2"/>
<circle cx="69.5" cy="133" r="2.2"/>
<circle cx="70.5" cy="137" r="2.2"/>
<circle cx="66.5" cy="141" r="2.2"/>
<circle cx="78.4" cy="134.9" r="2.2"/>
<circle cx="82.7" cy="136" r="2.2"/>
<circle cx="86" cy="133.8" r="2.2"/>
<circle cx="88.7" cy="132.2" r="2.2"/>
<circle cx="88.2" cy="137.1" r="2.2"/>
<circle cx="86" cy="139.3" r="2.2"/>
<circle cx="90.9" cy="140.3" r="2.2"/>
<circle cx="97.4" cy="131.6" r="2.2"/>
<circle cx="98" cy="136" r="2.2"/>
<circle cx="82.7" cy="145.3" r="2.2"/>
<circle cx="87.1" cy="147.4" r="2.2"/>
<circle cx="91.4" cy="145.3" r="2.2"/>
<circle cx="96.3" cy="144.2" r="2.2"/>
<circle cx="100.7" cy="141.4" r="2.2"/>
<circle cx="105.1" cy="140.3" r="2.2"/>
<circle cx="108.9" cy="138.2" r="2.2"/>
<circle cx="94.7" cy="104.9" r="2.2"/>
<circle cx="92" cy="108.2" r="2.2"/>
<circle cx="95.3" cy="108.7" r="2.2"/>
<circle cx="98" cy="110.4" r="2.2"/>
<circle cx="100.2" cy="104.9" r="2.2"/>
<circle cx="103.4" cy="110.4" r="2.2"/>
<circle cx="106.7" cy="106.5" r="2.2"/>
<circle cx="65.6" cy="155.5" r="2.2"/>
<circle cx="62.3" cy="158.8" r="2.2"/>
<circle cx="57.7" cy="162.7" r="2.2"/>
<circle cx="78" cy="152.2" r="2.2"/>
<circle cx="113.3" cy="142.4" r="2.2"/>
<circle cx="88.5" cy="140.4" r="2.2"/>
<circle cx="91.1" cy="140.4" r="2.2"/>
<circle cx="87.8" cy="133.2" r="2.2"/>
<circle cx="85.2" cy="135.9" r="2.2"/>
<circle cx="81.3" cy="137.2" r="2.2"/>
<circle cx="77.3" cy="134.5" r="2.2"/>
<circle cx="74.1" cy="140.4" r="2.2"/>
<circle cx="123.4" cy="78.1" r="2.2"/>
<circle cx="142.1" cy="77.2" r="2.2"/>
<circle cx="112.7" cy="87" r="2.2"/>
<circle cx="113.6" cy="106.3" r="2.2"/>
<circle cx="164.4" cy="126.1" r="2.2"/>
<circle cx="176.8" cy="121.2" r="2.2"/>
<circle cx="173.1" cy="128.9" r="2.2"/>
<circle cx="128" cy="129.6" r="2.2"/>
<circle cx="131.6" cy="130.8" r="2.2"/>
<circle cx="118.5" cy="133.8" r="2.2"/>
<circle cx="125.4" cy="134.3" r="2.2"/>
<circle cx="114.4" cy="142.3" r="2.2"/>
<circle cx="244.2" cy="103.8" r="2.2"/>
<circle cx="232.2" cy="105.1" r="2.2"/>
<circle cx="233.3" cy="107.6" r="2.2"/>
<circle cx="227.2" cy="112.9" r="2.2"/>
<circle cx="231.1" cy="117.4" r="2.2"/>
<circle cx="215.2" cy="115.5" r="2.2"/>
<circle cx="210.8" cy="122.1" r="2.2"/>
</g>
<rect x="42.3" y="12.4" width="211.9" height="173" fill="none" stroke="#4d4d4d" stroke-width="0.9"/>
<g stroke="#444" stroke-width="0.8">
<line x1="40.1" y1="181.4" x2="42.3" y2="181.4"/>
<line x1="40.1" y1="150.4" x2="42.3" y2="150.4"/>
<line x1="40.1" y1="119.4" x2="42.3" y2="119.4"/>
<line x1="40.1" y1="88.4" x2="42.3" y2="88.4"/>
<line x1="40.1" y1="57.4" x2="42.3" y2="57.4"/>
<line x1="40.1" y1="26.4" x2="42.3" y2="26.4"/>
<line x1="52.2" y1="185.4" x2="52.2" y2="187.6"/>
<line x1="78.2" y1="185.4" x2="78.2" y2="187.6"/>
<line x1="104.2" y1="185.4" x2="104.2" y2="187.6"/>
<line x1="130.2" y1="185.4" x2="130.2" y2="187.6"/>
<line x1="156.2" y1="185.4" x2="156.2" y2="187.6"/>
<line x1="182.2" y1="185.4" x2="182.2" y2="187.6"/>
<line x1="208.2" y1="185.4" x2="208.2" y2="187.6"/>
<line x1="234.2" y1="185.4" x2="234.2" y2="187.6"/>
</g>
<g font-family='"DejaVu Sans", "Liberation Sans", sans-serif' font-size="5.8" fill="#262626" stroke="#262626" stroke-width="0.18">
<text x="37.7" y="183.5" text-anchor="end">0</text>
<text x="37.7" y="152.5" text-anchor="end">20,000</text>
<text x="37.7" y="121.5" text-anchor="end">40,000</text>
<text x="37.7" y="90.5" text-anchor="end">60,000</text>
<text x="37.7" y="59.5" text-anchor="end">80,000</text>
<text x="37.7" y="28.5" text-anchor="end">100,000</text>
<text x="52.2" y="194.6" text-anchor="middle">0</text>
<text x="78.2" y="194.6" text-anchor="middle">50000</text>
<text x="104.2" y="194.6" text-anchor="middle">100000</text>
<text x="130.2" y="194.6" text-anchor="middle">150000</text>
<text x="156.2" y="194.6" text-anchor="middle">200000</text>
<text x="182.2" y="194.6" text-anchor="middle">250000</text>
<text x="208.2" y="194.6" text-anchor="middle">300000</text>
<text x="234.2" y="194.6" text-anchor="middle">350000</text>
<text x="148.2" y="202.6" text-anchor="middle" font-size="6">Pesticide Use (tonnes)</text>
<text transform="translate(9.9,98.9) rotate(-90)" text-anchor="middle">Yield (hg/ha)</text>
<text x="148.2" y="9.2" text-anchor="middle" font-size="7.1">Yield vs. Pesticide Use</text>
</g>
<text x="130" y="223" text-anchor="middle" font-family='"Liberation Serif", "DejaVu Serif", serif' font-size="14" fill="#111">(<tspan font-weight="bold">b</tspan>)</text>
</g>
<g transform="translate(141.3,228.5)">
<g fill="#0973bd">
<circle cx="54.7" cy="36.4" r="2.2"/>
<circle cx="55.3" cy="34.6" r="2.2"/>
<circle cx="54.8" cy="37" r="2.2"/>
<circle cx="54.4" cy="35.5" r="2.2"/>
<circle cx="55" cy="41" r="2.2"/>
<circle cx="54.3" cy="31.4" r="2.2"/>
<circle cx="54.3" cy="41.3" r="2.2"/>
<circle cx="55" cy="26.3" r="2.2"/>
<circle cx="55.4" cy="44.3" r="2.2"/>
<circle cx="55" cy="37.5" r="2.2"/>
<circle cx="54.4" cy="25.8" r="2.2"/>
<circle cx="54.8" cy="26.7" r="2.2"/>
<circle cx="54.4" cy="30.2" r="2.2"/>
<circle cx="54.2" cy="34.5" r="2.2"/>
<circle cx="54.7" cy="41.9" r="2.2"/>
<circle cx="54.8" cy="38" r="2.2"/>
<circle cx="54.8" cy="38.4" r="2.2"/>
<circle cx="54.7" cy="30.9" r="2.2"/>
<circle cx="55.4" cy="44.9" r="2.2"/>
<circle cx="55.2" cy="39.3" r="2.2"/>
<circle cx="54.6" cy="30" r="2.2"/>
<circle cx="54.5" cy="26.9" r="2.2"/>
<circle cx="55.1" cy="33.3" r="2.2"/>
<circle cx="55.2" cy="33" r="2.2"/>
<circle cx="55.3" cy="42" r="2.2"/>
<circle cx="53.6" cy="47.1" r="2.2"/>
<circle cx="56.6" cy="49.7" r="2.2"/>
<circle cx="56.9" cy="49" r="2.2"/>
<circle cx="53.7" cy="51.3" r="2.2"/>
<circle cx="56.1" cy="47.7" r="2.2"/>
<circle cx="53.8" cy="48.3" r="2.2"/>
<circle cx="56.9" cy="52.6" r="2.2"/>
<circle cx="53.9" cy="47.5" r="2.2"/>
<circle cx="53.8" cy="45.6" r="2.2"/>
<circle cx="56.2" cy="46.8" r="2.2"/>
<circle cx="55.3" cy="49.5" r="2.2"/>
<circle cx="54.1" cy="52.3" r="2.2"/>
<circle cx="53.9" cy="51.4" r="2.2"/>
<circle cx="53.9" cy="49.2" r="2.2"/>
<circle cx="54.1" cy="47.7" r="2.2"/>
<circle cx="56.9" cy="53" r="2.2"/>
<circle cx="54.4" cy="53.8" r="2.2"/>
<circle cx="54.1" cy="48.9" r="2.2"/>
<circle cx="56.4" cy="51.4" r="2.2"/>
<circle cx="53.8" cy="54.9" r="2.2"/>
<circle cx="54.4" cy="57.3" r="2.2"/>
<circle cx="59.3" cy="58" r="2.2"/>
<circle cx="55.1" cy="55.7" r="2.2"/>
<circle cx="53.5" cy="60.2" r="2.2"/>
<circle cx="54.7" cy="60.4" r="2.2"/>
<circle cx="55.7" cy="59.1" r="2.2"/>
<circle cx="61.1" cy="59.4" r="2.2"/>
<circle cx="57.5" cy="62.8" r="2.2"/>
<circle cx="54.2" cy="56.4" r="2.2"/>
<circle cx="60.6" cy="62.4" r="2.2"/>
<circle cx="54.7" cy="56.7" r="2.2"/>
<circle cx="59" cy="63.5" r="2.2"/>
<circle cx="54.3" cy="63.6" r="2.2"/>
<circle cx="60.4" cy="60.4" r="2.2"/>
<circle cx="56.1" cy="55.9" r="2.2"/>
<circle cx="53.2" cy="63.7" r="2.2"/>
<circle cx="54.6" cy="61.3" r="2.2"/>
<circle cx="54.8" cy="62.4" r="2.2"/>
<circle cx="57.7" cy="57.6" r="2.2"/>
<circle cx="54.1" cy="61.5" r="2.2"/>
<circle cx="53.4" cy="57.1" r="2.2"/>
<circle cx="57.4" cy="62.7" r="2.2"/>
<circle cx="57.9" cy="57.5" r="2.2"/>
<circle cx="60.7" cy="56.8" r="2.2"/>
<circle cx="53.1" cy="57.4" r="2.2"/>
<circle cx="56.4" cy="55.5" r="2.2"/>
<circle cx="54.2" cy="58.3" r="2.2"/>
<circle cx="57.5" cy="56.2" r="2.2"/>
<circle cx="55.6" cy="63" r="2.2"/>
<circle cx="61.3" cy="60.9" r="2.2"/>
<circle cx="57.4" cy="68.7" r="2.2"/>
<circle cx="53.4" cy="64.3" r="2.2"/>
<circle cx="52.7" cy="71.3" r="2.2"/>
<circle cx="57.5" cy="71.7" r="2.2"/>
<circle cx="52.7" cy="69.1" r="2.2"/>
<circle cx="55.8" cy="69.8" r="2.2"/>
<circle cx="54.6" cy="72" r="2.2"/>
<circle cx="53" cy="68.4" r="2.2"/>
<circle cx="57.8" cy="71.2" r="2.2"/>
<circle cx="57.8" cy="69.6" r="2.2"/>
<circle cx="58.3" cy="71.3" r="2.2"/>
<circle cx="54.8" cy="69.5" r="2.2"/>
<circle cx="59.2" cy="71" r="2.2"/>
<circle cx="55.3" cy="70.3" r="2.2"/>
<circle cx="58.9" cy="68.6" r="2.2"/>
<circle cx="56.9" cy="67.1" r="2.2"/>
<circle cx="56.6" cy="68.9" r="2.2"/>
<circle cx="53" cy="69.1" r="2.2"/>
<circle cx="59.9" cy="71" r="2.2"/>
<circle cx="57.7" cy="67.1" r="2.2"/>
<circle cx="57.8" cy="68.6" r="2.2"/>
<circle cx="55.5" cy="70.7" r="2.2"/>
<circle cx="53" cy="70" r="2.2"/>
<circle cx="52.7" cy="68.8" r="2.2"/>
<circle cx="55.8" cy="65.8" r="2.2"/>
<circle cx="57.5" cy="68" r="2.2"/>
<circle cx="56.8" cy="71.4" r="2.2"/>
<circle cx="53.6" cy="70.5" r="2.2"/>
<circle cx="54" cy="97.1" r="2.2"/>
<circle cx="53.2" cy="76.8" r="2.2"/>
<circle cx="59" cy="96.4" r="2.2"/>
<circle cx="55" cy="105.7" r="2.2"/>
<circle cx="54.2" cy="96.6" r="2.2"/>
<circle cx="53.2" cy="87.2" r="2.2"/>
<circle cx="58.1" cy="106.6" r="2.2"/>
<circle cx="58.7" cy="85.4" r="2.2"/>
<circle cx="56.2" cy="82.7" r="2.2"/>
<circle cx="52.8" cy="89.9" r="2.2"/>
<circle cx="58.4" cy="103.9" r="2.2"/>
<circle cx="57.3" cy="108" r="2.2"/>
<circle cx="53.8" cy="76.8" r="2.2"/>
<circle cx="55.1" cy="81" r="2.2"/>
<circle cx="53.3" cy="86.6" r="2.2"/>
<circle cx="56.5" cy="89.8" r="2.2"/>
<circle cx="54.1" cy="103.6" r="2.2"/>
<circle cx="59.6" cy="88.1" r="2.2"/>
<circle cx="52.4" cy="71.3" r="2.2"/>
<circle cx="58.7" cy="71.7" r="2.2"/>
<circle cx="57.2" cy="92.8" r="2.2"/>
<circle cx="54" cy="101.7" r="2.2"/>
<circle cx="52.1" cy="75.4" r="2.2"/>
<circle cx="55.2" cy="71" r="2.2"/>
<circle cx="58.3" cy="79.5" r="2.2"/>
<circle cx="52.8" cy="71.9" r="2.2"/>
<circle cx="56.6" cy="87.9" r="2.2"/>
<circle cx="56.6" cy="96.2" r="2.2"/>
<circle cx="58.1" cy="108.3" r="2.2"/>
<circle cx="57" cy="78" r="2.2"/>
<circle cx="55.3" cy="77.1" r="2.2"/>
<circle cx="52" cy="88.9" r="2.2"/>
<circle cx="57.3" cy="77.2" r="2.2"/>
<circle cx="53.7" cy="83.8" r="2.2"/>
<circle cx="57.2" cy="90.8" r="2.2"/>
<circle cx="56.5" cy="100.2" r="2.2"/>
<circle cx="54.7" cy="101.7" r="2.2"/>
<circle cx="59" cy="73.5" r="2.2"/>
<circle cx="59.2" cy="98.9" r="2.2"/>
<circle cx="52.7" cy="88.1" r="2.2"/>
<circle cx="56.5" cy="106.4" r="2.2"/>
<circle cx="54.5" cy="92.8" r="2.2"/>
<circle cx="58.7" cy="101.9" r="2.2"/>
<circle cx="59.3" cy="88.5" r="2.2"/>
<circle cx="56.8" cy="78.2" r="2.2"/>
<circle cx="57.4" cy="102.7" r="2.2"/>
<circle cx="56.7" cy="98.7" r="2.2"/>
<circle cx="53.3" cy="106" r="2.2"/>
<circle cx="59.6" cy="109.1" r="2.2"/>
<circle cx="55.8" cy="101.6" r="2.2"/>
<circle cx="54.1" cy="106.4" r="2.2"/>
<circle cx="58.5" cy="83.9" r="2.2"/>
<circle cx="52.4" cy="87.6" r="2.2"/>
<circle cx="55.9" cy="100.7" r="2.2"/>
<circle cx="55.4" cy="71.1" r="2.2"/>
<circle cx="58.1" cy="72.6" r="2.2"/>
<circle cx="58" cy="76.9" r="2.2"/>
<circle cx="54.2" cy="101.5" r="2.2"/>
<circle cx="52.8" cy="75.9" r="2.2"/>
<circle cx="55.6" cy="98.9" r="2.2"/>
<circle cx="58.4" cy="97.6" r="2.2"/>
<circle cx="59.3" cy="89.7" r="2.2"/>
<circle cx="59.3" cy="73.4" r="2.2"/>
<circle cx="53.4" cy="91.1" r="2.2"/>
<circle cx="53.9" cy="99.2" r="2.2"/>
<circle cx="56.7" cy="90.9" r="2.2"/>
<circle cx="58.4" cy="92.4" r="2.2"/>
<circle cx="54" cy="85.2" r="2.2"/>
<circle cx="58.4" cy="106" r="2.2"/>
<circle cx="53.3" cy="104" r="2.2"/>
<circle cx="59.5" cy="91" r="2.2"/>
<circle cx="56.1" cy="78" r="2.2"/>
<circle cx="55.8" cy="90.1" r="2.2"/>
<circle cx="56.4" cy="71.1" r="2.2"/>
<circle cx="59.5" cy="90.6" r="2.2"/>
<circle cx="54.7" cy="102" r="2.2"/>
<circle cx="56" cy="89.6" r="2.2"/>
<circle cx="57.1" cy="72.6" r="2.2"/>
<circle cx="55.8" cy="86.6" r="2.2"/>
<circle cx="59.4" cy="106.9" r="2.2"/>
<circle cx="53.7" cy="88.9" r="2.2"/>
<circle cx="52.7" cy="87.3" r="2.2"/>
<circle cx="58.2" cy="106" r="2.2"/>
<circle cx="55.3" cy="82.7" r="2.2"/>
<circle cx="53.2" cy="94.7" r="2.2"/>
<circle cx="59.1" cy="75.2" r="2.2"/>
<circle cx="57.9" cy="70.9" r="2.2"/>
<circle cx="53.2" cy="79.1" r="2.2"/>
<circle cx="57.1" cy="82.9" r="2.2"/>
<circle cx="54.4" cy="94.8" r="2.2"/>
<circle cx="52.6" cy="99.2" r="2.2"/>
<circle cx="52.7" cy="90.4" r="2.2"/>
<circle cx="53.6" cy="77.9" r="2.2"/>
<circle cx="55.8" cy="87.5" r="2.2"/>
<circle cx="54.5" cy="86.5" r="2.2"/>
<circle cx="55.8" cy="76.4" r="2.2"/>
<circle cx="53.3" cy="95.3" r="2.2"/>
<circle cx="56.7" cy="91.2" r="2.2"/>
<circle cx="58.5" cy="94.5" r="2.2"/>
<circle cx="58.5" cy="79.3" r="2.2"/>
<circle cx="57.5" cy="102.4" r="2.2"/>
<circle cx="58.9" cy="82.6" r="2.2"/>
<circle cx="54.1" cy="106.9" r="2.2"/>
<circle cx="53.4" cy="109.9" r="2.2"/>
<circle cx="58.8" cy="75.4" r="2.2"/>
<circle cx="53.5" cy="99.1" r="2.2"/>
<circle cx="53.7" cy="73.9" r="2.2"/>
<circle cx="58.3" cy="86.9" r="2.2"/>
<circle cx="57.9" cy="75" r="2.2"/>
<circle cx="54.7" cy="97.4" r="2.2"/>
<circle cx="52.1" cy="78" r="2.2"/>
<circle cx="57" cy="106.5" r="2.2"/>
<circle cx="59.5" cy="74.6" r="2.2"/>
<circle cx="55.6" cy="100.3" r="2.2"/>
<circle cx="55.5" cy="97.4" r="2.2"/>
<circle cx="53.1" cy="72.8" r="2.2"/>
<circle cx="52.6" cy="71.5" r="2.2"/>
<circle cx="55.9" cy="90.6" r="2.2"/>
<circle cx="56.1" cy="75.9" r="2.2"/>
<circle cx="53.1" cy="78.2" r="2.2"/>
<circle cx="58.4" cy="109.6" r="2.2"/>
<circle cx="59.1" cy="73.8" r="2.2"/>
<circle cx="52.3" cy="108.1" r="2.2"/>
<circle cx="55.2" cy="100.6" r="2.2"/>
<circle cx="54.2" cy="88.7" r="2.2"/>
<circle cx="55.6" cy="87.2" r="2.2"/>
<circle cx="56.3" cy="70.5" r="2.2"/>
<circle cx="57.2" cy="103.8" r="2.2"/>
<circle cx="53.1" cy="88.2" r="2.2"/>
<circle cx="57.5" cy="86.2" r="2.2"/>
<circle cx="53.2" cy="76.6" r="2.2"/>
<circle cx="55.6" cy="70.6" r="2.2"/>
<circle cx="58.8" cy="102.1" r="2.2"/>
<circle cx="57.2" cy="104.4" r="2.2"/>
<circle cx="56.6" cy="86.2" r="2.2"/>
<circle cx="56.3" cy="90.2" r="2.2"/>
<circle cx="59.6" cy="102.2" r="2.2"/>
<circle cx="53.6" cy="106.5" r="2.2"/>
<circle cx="57.6" cy="101.1" r="2.2"/>
<circle cx="58.2" cy="86.2" r="2.2"/>
<circle cx="58.9" cy="105.2" r="2.2"/>
<circle cx="57.1" cy="100.7" r="2.2"/>
<circle cx="57.7" cy="86.2" r="2.2"/>
<circle cx="57.4" cy="72.8" r="2.2"/>
<circle cx="54.3" cy="88.8" r="2.2"/>
<circle cx="52" cy="84.2" r="2.2"/>
<circle cx="56.7" cy="95" r="2.2"/>
<circle cx="53.5" cy="107.8" r="2.2"/>
<circle cx="56.9" cy="83.5" r="2.2"/>
<circle cx="56.8" cy="92.8" r="2.2"/>
<circle cx="55.8" cy="85.6" r="2.2"/>
<circle cx="59.8" cy="95.7" r="2.2"/>
<circle cx="57.2" cy="100.5" r="2.2"/>
<circle cx="59.6" cy="70.9" r="2.2"/>
<circle cx="56.5" cy="99.6" r="2.2"/>
<circle cx="53.6" cy="86.1" r="2.2"/>
<circle cx="52.3" cy="77.8" r="2.2"/>
<circle cx="54.5" cy="73.9" r="2.2"/>
<circle cx="53.6" cy="106.2" r="2.2"/>
<circle cx="55.9" cy="90.3" r="2.2"/>
<circle cx="59.5" cy="92.7" r="2.2"/>
<circle cx="59.8" cy="95.5" r="2.2"/>
<circle cx="58.1" cy="73" r="2.2"/>
<circle cx="56.3" cy="100.4" r="2.2"/>
<circle cx="52.2" cy="107.2" r="2.2"/>
<circle cx="52.9" cy="88.9" r="2.2"/>
<circle cx="53" cy="89.8" r="2.2"/>
<circle cx="56.4" cy="72.3" r="2.2"/>
<circle cx="59.3" cy="86.8" r="2.2"/>
<circle cx="55.7" cy="93.9" r="2.2"/>
<circle cx="54.5" cy="81.4" r="2.2"/>
<circle cx="56.8" cy="92.4" r="2.2"/>
<circle cx="53.8" cy="98.7" r="2.2"/>
<circle cx="53.9" cy="70.6" r="2.2"/>
<circle cx="53.5" cy="71.7" r="2.2"/>
<circle cx="52.9" cy="100.2" r="2.2"/>
<circle cx="54.6" cy="105.9" r="2.2"/>
<circle cx="57.6" cy="72" r="2.2"/>
<circle cx="59.7" cy="107.8" r="2.2"/>
<circle cx="52.4" cy="106.2" r="2.2"/>
<circle cx="55" cy="89.1" r="2.2"/>
<circle cx="59.6" cy="79.7" r="2.2"/>
<circle cx="55.7" cy="107.5" r="2.2"/>
<circle cx="57.4" cy="88.7" r="2.2"/>
<circle cx="59.6" cy="102.7" r="2.2"/>
<circle cx="56.4" cy="74.6" r="2.2"/>
<circle cx="56.5" cy="88.2" r="2.2"/>
<circle cx="53.3" cy="72.1" r="2.2"/>
<circle cx="55.7" cy="75" r="2.2"/>
<circle cx="55.1" cy="96.7" r="2.2"/>
<circle cx="55.2" cy="80.5" r="2.2"/>
<circle cx="56.7" cy="117.6" r="2.2"/>
<circle cx="58.5" cy="119.6" r="2.2"/>
<circle cx="60.6" cy="127.1" r="2.2"/>
<circle cx="58.1" cy="114.3" r="2.2"/>
<circle cx="52.8" cy="126.1" r="2.2"/>
<circle cx="58.6" cy="121.2" r="2.2"/>
<circle cx="54.8" cy="114.9" r="2.2"/>
<circle cx="57.7" cy="120.2" r="2.2"/>
<circle cx="56.8" cy="121.4" r="2.2"/>
<circle cx="58.3" cy="113.4" r="2.2"/>
<circle cx="53.9" cy="127.6" r="2.2"/>
<circle cx="59.8" cy="125.8" r="2.2"/>
<circle cx="52.2" cy="111.1" r="2.2"/>
<circle cx="54" cy="117.7" r="2.2"/>
<circle cx="57.1" cy="111.8" r="2.2"/>
<circle cx="56.4" cy="111.3" r="2.2"/>
<circle cx="52.6" cy="122.2" r="2.2"/>
<circle cx="56.5" cy="121.4" r="2.2"/>
<circle cx="54.9" cy="118.6" r="2.2"/>
<circle cx="53.6" cy="116.2" r="2.2"/>
<circle cx="58.2" cy="125.1" r="2.2"/>
<circle cx="52.5" cy="112.2" r="2.2"/>
<circle cx="58.8" cy="121.2" r="2.2"/>
<circle cx="58.4" cy="113.8" r="2.2"/>
<circle cx="55.3" cy="114.6" r="2.2"/>
<circle cx="58.8" cy="116.6" r="2.2"/>
<circle cx="57.4" cy="127.8" r="2.2"/>
<circle cx="54.5" cy="119.9" r="2.2"/>
<circle cx="58.2" cy="126.6" r="2.2"/>
<circle cx="55.4" cy="116.6" r="2.2"/>
<circle cx="52.7" cy="125.8" r="2.2"/>
<circle cx="52.5" cy="111.5" r="2.2"/>
<circle cx="56.6" cy="118.7" r="2.2"/>
<circle cx="57.7" cy="115.4" r="2.2"/>
<circle cx="58.5" cy="111.4" r="2.2"/>
<circle cx="53.6" cy="121.9" r="2.2"/>
<circle cx="52.5" cy="115.5" r="2.2"/>
<circle cx="58" cy="122.5" r="2.2"/>
<circle cx="54.1" cy="112.6" r="2.2"/>
<circle cx="54.8" cy="123.1" r="2.2"/>
<circle cx="54.8" cy="112.1" r="2.2"/>
<circle cx="57.9" cy="120.2" r="2.2"/>
<circle cx="59.8" cy="126.9" r="2.2"/>
<circle cx="59.8" cy="117.9" r="2.2"/>
<circle cx="58.8" cy="115.5" r="2.2"/>
<circle cx="54.4" cy="117.2" r="2.2"/>
<circle cx="60" cy="126.1" r="2.2"/>
<circle cx="53.9" cy="116.5" r="2.2"/>
<circle cx="54.8" cy="116.5" r="2.2"/>
<circle cx="55.1" cy="117" r="2.2"/>
<circle cx="53.4" cy="120.1" r="2.2"/>
<circle cx="58.7" cy="119.7" r="2.2"/>
<circle cx="59.1" cy="120.1" r="2.2"/>
<circle cx="53.3" cy="123.7" r="2.2"/>
<circle cx="59.5" cy="115.1" r="2.2"/>
<circle cx="52.1" cy="119.3" r="2.2"/>
<circle cx="56.4" cy="120.2" r="2.2"/>
<circle cx="60.3" cy="121.7" r="2.2"/>
<circle cx="58.8" cy="111.2" r="2.2"/>
<circle cx="56.4" cy="124.2" r="2.2"/>
<circle cx="52.6" cy="111.5" r="2.2"/>
<circle cx="58.1" cy="126.2" r="2.2"/>
<circle cx="52.6" cy="121.4" r="2.2"/>
<circle cx="53" cy="123.4" r="2.2"/>
<circle cx="57.3" cy="114.4" r="2.2"/>
<circle cx="53.6" cy="123.8" r="2.2"/>
<circle cx="56.2" cy="123.8" r="2.2"/>
<circle cx="55.1" cy="116.1" r="2.2"/>
<circle cx="60.3" cy="122.1" r="2.2"/>
<circle cx="56" cy="119.7" r="2.2"/>
<circle cx="58" cy="122.7" r="2.2"/>
<circle cx="59.8" cy="117.4" r="2.2"/>
<circle cx="59" cy="122" r="2.2"/>
<circle cx="59.2" cy="124.5" r="2.2"/>
<circle cx="59" cy="126" r="2.2"/>
<circle cx="60.2" cy="121.5" r="2.2"/>
<circle cx="56.2" cy="122.8" r="2.2"/>
<circle cx="58.7" cy="117.6" r="2.2"/>
<circle cx="55.3" cy="112.6" r="2.2"/>
<circle cx="58.2" cy="127.8" r="2.2"/>
<circle cx="54.9" cy="113" r="2.2"/>
<circle cx="53.5" cy="117.6" r="2.2"/>
<circle cx="54.2" cy="127.5" r="2.2"/>
<circle cx="52.4" cy="115.6" r="2.2"/>
<circle cx="52.8" cy="121.7" r="2.2"/>
<circle cx="58.5" cy="113.2" r="2.2"/>
<circle cx="52.4" cy="118.3" r="2.2"/>
<circle cx="56.8" cy="126.4" r="2.2"/>
<circle cx="52.2" cy="112" r="2.2"/>
<circle cx="53.3" cy="113.9" r="2.2"/>
<circle cx="54.6" cy="135.3" r="2.2"/>
<circle cx="60.9" cy="128.9" r="2.2"/>
<circle cx="53.8" cy="129.7" r="2.2"/>
<circle cx="53.7" cy="135.8" r="2.2"/>
<circle cx="55.7" cy="133.1" r="2.2"/>
<circle cx="65.7" cy="132.2" r="2.2"/>
<circle cx="54.9" cy="137.5" r="2.2"/>
<circle cx="67.9" cy="130.4" r="2.2"/>
<circle cx="60" cy="138.4" r="2.2"/>
<circle cx="58.7" cy="128.9" r="2.2"/>
<circle cx="52.3" cy="138.3" r="2.2"/>
<circle cx="65.4" cy="131" r="2.2"/>
<circle cx="59.6" cy="132.7" r="2.2"/>
<circle cx="55.1" cy="138.9" r="2.2"/>
<circle cx="62.2" cy="129.1" r="2.2"/>
<circle cx="52" cy="132.1" r="2.2"/>
<circle cx="56.7" cy="136.4" r="2.2"/>
<circle cx="63.4" cy="133.9" r="2.2"/>
<circle cx="53.5" cy="128" r="2.2"/>
<circle cx="55.9" cy="129.4" r="2.2"/>
<circle cx="66.9" cy="132.7" r="2.2"/>
<circle cx="61.8" cy="138.9" r="2.2"/>
<circle cx="55" cy="132.9" r="2.2"/>
<circle cx="53.4" cy="136" r="2.2"/>
<circle cx="52" cy="136.7" r="2.2"/>
<circle cx="66.4" cy="136.7" r="2.2"/>
<circle cx="52.6" cy="129.5" r="2.2"/>
<circle cx="63.5" cy="127.3" r="2.2"/>
<circle cx="58.7" cy="132.1" r="2.2"/>
<circle cx="68.9" cy="133.6" r="2.2"/>
<circle cx="66.6" cy="129.9" r="2.2"/>
<circle cx="65.1" cy="131.4" r="2.2"/>
<circle cx="68" cy="127.2" r="2.2"/>
<circle cx="65.9" cy="128.7" r="2.2"/>
<circle cx="59.9" cy="132.8" r="2.2"/>
<circle cx="53.5" cy="136.8" r="2.2"/>
<circle cx="55.7" cy="130" r="2.2"/>
<circle cx="52.6" cy="130" r="2.2"/>
<circle cx="58.4" cy="135.3" r="2.2"/>
<circle cx="56.5" cy="134.9" r="2.2"/>
<circle cx="52.9" cy="131.1" r="2.2"/>
<circle cx="58.3" cy="138.6" r="2.2"/>
<circle cx="66" cy="134.5" r="2.2"/>
<circle cx="52" cy="130.9" r="2.2"/>
<circle cx="63.3" cy="129.1" r="2.2"/>
<circle cx="60.3" cy="132" r="2.2"/>
<circle cx="52" cy="138.9" r="2.2"/>
<circle cx="65.3" cy="128.7" r="2.2"/>
<circle cx="61.4" cy="129.8" r="2.2"/>
<circle cx="56.8" cy="133" r="2.2"/>
<circle cx="55.5" cy="130.4" r="2.2"/>
<circle cx="57.1" cy="134.7" r="2.2"/>
<circle cx="54.9" cy="128.6" r="2.2"/>
<circle cx="63.8" cy="130.3" r="2.2"/>
<circle cx="68.7" cy="133.3" r="2.2"/>
<circle cx="63.6" cy="130.3" r="2.2"/>
<circle cx="65.9" cy="127.2" r="2.2"/>
<circle cx="53.3" cy="127.2" r="2.2"/>
<circle cx="62.6" cy="135.2" r="2.2"/>
<circle cx="53.8" cy="131.2" r="2.2"/>
<circle cx="66.2" cy="133.7" r="2.2"/>
<circle cx="52.7" cy="128.9" r="2.2"/>
<circle cx="53.5" cy="127.6" r="2.2"/>
<circle cx="57.3" cy="126.9" r="2.2"/>
<circle cx="68.1" cy="131.6" r="2.2"/>
<circle cx="59.3" cy="134.4" r="2.2"/>
<circle cx="64.6" cy="136.7" r="2.2"/>
<circle cx="57" cy="130.3" r="2.2"/>
<circle cx="57.4" cy="126.2" r="2.2"/>
<circle cx="57.2" cy="135.1" r="2.2"/>
<circle cx="69.6" cy="136.3" r="2.2"/>
<circle cx="62.3" cy="133.9" r="2.2"/>
<circle cx="52.1" cy="130.3" r="2.2"/>
<circle cx="56.2" cy="134.5" r="2.2"/>
<circle cx="52.9" cy="130.9" r="2.2"/>
<circle cx="59.2" cy="136.3" r="2.2"/>
<circle cx="65.9" cy="133.9" r="2.2"/>
<circle cx="53.5" cy="136" r="2.2"/>
<circle cx="67.7" cy="133.1" r="2.2"/>
<circle cx="56.4" cy="132.5" r="2.2"/>
<circle cx="53.3" cy="135.3" r="2.2"/>
<circle cx="69.7" cy="132.7" r="2.2"/>
<circle cx="63.5" cy="136.9" r="2.2"/>
<circle cx="54" cy="138.3" r="2.2"/>
<circle cx="59" cy="140" r="2.2"/>
<circle cx="52.7" cy="140.4" r="2.2"/>
<circle cx="58.4" cy="145" r="2.2"/>
<circle cx="55.3" cy="147.3" r="2.2"/>
<circle cx="55.7" cy="142.6" r="2.2"/>
<circle cx="53.1" cy="147.7" r="2.2"/>
<circle cx="53.2" cy="147" r="2.2"/>
<circle cx="58" cy="143.6" r="2.2"/>
<circle cx="58.2" cy="140.6" r="2.2"/>
<circle cx="62.8" cy="147.9" r="2.2"/>
<circle cx="61.5" cy="144" r="2.2"/>
<circle cx="53.1" cy="146.2" r="2.2"/>
<circle cx="54.9" cy="147" r="2.2"/>
<circle cx="54.3" cy="143.7" r="2.2"/>
<circle cx="61.7" cy="139.9" r="2.2"/>
<circle cx="58" cy="138.8" r="2.2"/>
<circle cx="52.2" cy="139.8" r="2.2"/>
<circle cx="63.8" cy="147.4" r="2.2"/>
<circle cx="59.4" cy="141.1" r="2.2"/>
<circle cx="59.6" cy="145.4" r="2.2"/>
<circle cx="56" cy="143.9" r="2.2"/>
<circle cx="61.3" cy="138.2" r="2.2"/>
<circle cx="53.9" cy="142.7" r="2.2"/>
<circle cx="53.3" cy="141.9" r="2.2"/>
<circle cx="58.3" cy="139.7" r="2.2"/>
<circle cx="57.7" cy="140.6" r="2.2"/>
<circle cx="58.3" cy="141.3" r="2.2"/>
<circle cx="59.2" cy="138.4" r="2.2"/>
<circle cx="59.6" cy="139.4" r="2.2"/>
<circle cx="63.4" cy="144" r="2.2"/>
<circle cx="57" cy="142.1" r="2.2"/>
<circle cx="59" cy="144.9" r="2.2"/>
<circle cx="60.7" cy="145.5" r="2.2"/>
<circle cx="57.2" cy="147.9" r="2.2"/>
<circle cx="61.8" cy="146.6" r="2.2"/>
<circle cx="56.3" cy="142.3" r="2.2"/>
<circle cx="58.2" cy="147.1" r="2.2"/>
<circle cx="57.7" cy="143.3" r="2.2"/>
<circle cx="56.6" cy="147" r="2.2"/>
<circle cx="55.2" cy="138.5" r="2.2"/>
<circle cx="60.3" cy="147" r="2.2"/>
<circle cx="60.4" cy="144" r="2.2"/>
<circle cx="60.6" cy="141" r="2.2"/>
<circle cx="58.6" cy="138.7" r="2.2"/>
<circle cx="53.1" cy="142.5" r="2.2"/>
<circle cx="57.4" cy="142" r="2.2"/>
<circle cx="52.1" cy="157" r="2.2"/>
<circle cx="53.4" cy="151.1" r="2.2"/>
<circle cx="52.8" cy="153.1" r="2.2"/>
<circle cx="52.6" cy="148.9" r="2.2"/>
<circle cx="54.5" cy="160.6" r="2.2"/>
<circle cx="53.8" cy="159.3" r="2.2"/>
<circle cx="53.1" cy="158.5" r="2.2"/>
<circle cx="52.6" cy="157.7" r="2.2"/>
<circle cx="53.5" cy="159.7" r="2.2"/>
<circle cx="52.3" cy="158.3" r="2.2"/>
<circle cx="52.3" cy="155" r="2.2"/>
<circle cx="54.6" cy="148" r="2.2"/>
<circle cx="52.7" cy="151.9" r="2.2"/>
<circle cx="52.9" cy="148.8" r="2.2"/>
<circle cx="54.4" cy="158.6" r="2.2"/>
<circle cx="53.1" cy="152.6" r="2.2"/>
<circle cx="53.6" cy="148.6" r="2.2"/>
<circle cx="52.1" cy="159.7" r="2.2"/>
<circle cx="52.8" cy="154.5" r="2.2"/>
<circle cx="54.5" cy="160.7" r="2.2"/>
<circle cx="53.3" cy="150.7" r="2.2"/>
<circle cx="52.8" cy="160" r="2.2"/>
<circle cx="54.4" cy="150.5" r="2.2"/>
<circle cx="54.3" cy="152.6" r="2.2"/>
<circle cx="53.3" cy="150.2" r="2.2"/>
<circle cx="54.4" cy="160.9" r="2.2"/>
<circle cx="52.5" cy="156.2" r="2.2"/>
<circle cx="52.5" cy="159.4" r="2.2"/>
<circle cx="52.1" cy="149.4" r="2.2"/>
<circle cx="54" cy="152.1" r="2.2"/>
<circle cx="54.4" cy="159.3" r="2.2"/>
<circle cx="53.9" cy="149.8" r="2.2"/>
<circle cx="53.9" cy="160.2" r="2.2"/>
<circle cx="59.2" cy="147.1" r="2.2"/>
<circle cx="58.3" cy="150.3" r="2.2"/>
<circle cx="60.2" cy="148.8" r="2.2"/>
<circle cx="58.2" cy="149.3" r="2.2"/>
<circle cx="60" cy="157.1" r="2.2"/>
<circle cx="58.9" cy="155.3" r="2.2"/>
<circle cx="60.9" cy="154.3" r="2.2"/>
<circle cx="58.4" cy="150.2" r="2.2"/>
<circle cx="61" cy="155.3" r="2.2"/>
<circle cx="58.6" cy="155" r="2.2"/>
<circle cx="57.8" cy="159.8" r="2.2"/>
<circle cx="59.2" cy="153.4" r="2.2"/>
<circle cx="59.5" cy="146.6" r="2.2"/>
<circle cx="59.8" cy="150" r="2.2"/>
<circle cx="52.5" cy="165" r="2.2"/>
<circle cx="52.2" cy="162.4" r="2.2"/>
<circle cx="53.5" cy="162.2" r="2.2"/>
<circle cx="52.6" cy="163.7" r="2.2"/>
<circle cx="52.4" cy="165.5" r="2.2"/>
<circle cx="54" cy="161.2" r="2.2"/>
<circle cx="52.9" cy="164.8" r="2.2"/>
<circle cx="52.8" cy="165.6" r="2.2"/>
<circle cx="53" cy="161.9" r="2.2"/>
<circle cx="53.1" cy="164.2" r="2.2"/>
<circle cx="52.7" cy="164.3" r="2.2"/>
<circle cx="53" cy="171.6" r="2.2"/>
<circle cx="52.7" cy="175.1" r="2.2"/>
<circle cx="52.9" cy="171.6" r="2.2"/>
<circle cx="53.2" cy="167.9" r="2.2"/>
<circle cx="53" cy="167.8" r="2.2"/>
<circle cx="52.8" cy="168.5" r="2.2"/>
<circle cx="52.6" cy="174.3" r="2.2"/>
<circle cx="53" cy="174.5" r="2.2"/>
<circle cx="52.3" cy="171.3" r="2.2"/>
<circle cx="52.3" cy="172.3" r="2.2"/>
<circle cx="52.6" cy="166.4" r="2.2"/>
<circle cx="52.8" cy="173.7" r="2.2"/>
<circle cx="52.7" cy="175.4" r="2.2"/>
<circle cx="52.2" cy="167.6" r="2.2"/>
<circle cx="52" cy="171.4" r="2.2"/>
<circle cx="52.6" cy="170.8" r="2.2"/>
<circle cx="52.3" cy="174.6" r="2.2"/>
<circle cx="52.1" cy="175.8" r="2.2"/>
<circle cx="52.7" cy="171.9" r="2.2"/>
<circle cx="67.9" cy="102.9" r="2.2"/>
<circle cx="62.7" cy="110.7" r="2.2"/>
<circle cx="67.7" cy="105.9" r="2.2"/>
<circle cx="65.4" cy="108.9" r="2.2"/>
<circle cx="62.4" cy="112" r="2.2"/>
<circle cx="69.7" cy="107.3" r="2.2"/>
<circle cx="62.1" cy="114.5" r="2.2"/>
<circle cx="66.1" cy="110.8" r="2.2"/>
<circle cx="67.6" cy="111.1" r="2.2"/>
<circle cx="63.1" cy="115" r="2.2"/>
<circle cx="61.2" cy="117.2" r="2.2"/>
<circle cx="62.8" cy="113" r="2.2"/>
<circle cx="63.9" cy="107.7" r="2.2"/>
<circle cx="72.1" cy="102.6" r="2.2"/>
<circle cx="63" cy="112.9" r="2.2"/>
<circle cx="64" cy="114.4" r="2.2"/>
<circle cx="64.5" cy="112.9" r="2.2"/>
<circle cx="65.4" cy="106.7" r="2.2"/>
<circle cx="65.9" cy="105.9" r="2.2"/>
<circle cx="69.9" cy="106.3" r="2.2"/>
<circle cx="69.8" cy="102.7" r="2.2"/>
<circle cx="69.1" cy="105" r="2.2"/>
<circle cx="63.3" cy="111.5" r="2.2"/>
<circle cx="65.4" cy="106.7" r="2.2"/>
<circle cx="63.8" cy="112" r="2.2"/>
<circle cx="68.2" cy="110.3" r="2.2"/>
<circle cx="87.6" cy="137.7" r="2.2"/>
<circle cx="78" cy="130.1" r="2.2"/>
<circle cx="78" cy="131.2" r="2.2"/>
<circle cx="79.5" cy="134.4" r="2.2"/>
<circle cx="85.7" cy="136.2" r="2.2"/>
<circle cx="80.3" cy="130.8" r="2.2"/>
<circle cx="88.5" cy="139.1" r="2.2"/>
<circle cx="75.5" cy="129.7" r="2.2"/>
<circle cx="79" cy="130" r="2.2"/>
<circle cx="87.6" cy="135.3" r="2.2"/>
<circle cx="80.7" cy="131.7" r="2.2"/>
<circle cx="78.7" cy="129.3" r="2.2"/>
<circle cx="80.3" cy="133.2" r="2.2"/>
<circle cx="79" cy="130.2" r="2.2"/>
<circle cx="87.6" cy="135.3" r="2.2"/>
<circle cx="78.1" cy="132.9" r="2.2"/>
<circle cx="71.4" cy="124.8" r="2.2"/>
<circle cx="66.9" cy="123.3" r="2.2"/>
<circle cx="66" cy="122.5" r="2.2"/>
<circle cx="77.3" cy="124.9" r="2.2"/>
<circle cx="84.9" cy="124.9" r="2.2"/>
<circle cx="83.3" cy="124.9" r="2.2"/>
<circle cx="79.1" cy="125.1" r="2.2"/>
<circle cx="68" cy="122.7" r="2.2"/>
<circle cx="72" cy="122.8" r="2.2"/>
<circle cx="70.8" cy="123.9" r="2.2"/>
<circle cx="67.9" cy="123.5" r="2.2"/>
<circle cx="72.6" cy="124.4" r="2.2"/>
<circle cx="66.7" cy="123.3" r="2.2"/>
<circle cx="71.3" cy="124.1" r="2.2"/>
<circle cx="70.8" cy="133.4" r="2.2"/>
<circle cx="70.8" cy="124.4" r="2.2"/>
<circle cx="66.5" cy="130.2" r="2.2"/>
<circle cx="61.9" cy="130.9" r="2.2"/>
<circle cx="61.8" cy="132.4" r="2.2"/>
<circle cx="69.2" cy="132" r="2.2"/>
<circle cx="65.6" cy="128.3" r="2.2"/>
<circle cx="61.3" cy="129.9" r="2.2"/>
<circle cx="73.5" cy="133.6" r="2.2"/>
<circle cx="64.7" cy="135.4" r="2.2"/>
<circle cx="63.6" cy="132" r="2.2"/>
<circle cx="69.6" cy="140.2" r="2.2"/>
<circle cx="66.1" cy="133.8" r="2.2"/>
<circle cx="74.2" cy="137.1" r="2.2"/>
<circle cx="69.8" cy="134.6" r="2.2"/>
<circle cx="66.8" cy="131.1" r="2.2"/>
<circle cx="64.9" cy="138.1" r="2.2"/>
<circle cx="73.3" cy="130.5" r="2.2"/>
<circle cx="73.7" cy="124.6" r="2.2"/>
<circle cx="62.9" cy="132.6" r="2.2"/>
<circle cx="65.3" cy="130.1" r="2.2"/>
<circle cx="74.7" cy="126.5" r="2.2"/>
<circle cx="63.7" cy="127.9" r="2.2"/>
<circle cx="70.5" cy="128" r="2.2"/>
<circle cx="61" cy="133.2" r="2.2"/>
<circle cx="66.5" cy="128.1" r="2.2"/>
<circle cx="67.9" cy="135.1" r="2.2"/>
<circle cx="68.7" cy="134.6" r="2.2"/>
<circle cx="68.9" cy="138.1" r="2.2"/>
<circle cx="74.6" cy="129.7" r="2.2"/>
<circle cx="62.1" cy="146.1" r="2.2"/>
<circle cx="61.9" cy="144.7" r="2.2"/>
<circle cx="64.2" cy="144.5" r="2.2"/>
<circle cx="65.8" cy="145.6" r="2.2"/>
<circle cx="61" cy="144" r="2.2"/>
<circle cx="62.9" cy="143.5" r="2.2"/>
<circle cx="73.8" cy="20.5" r="2.2"/>
<circle cx="75.8" cy="23.1" r="2.2"/>
<circle cx="57.4" cy="25.1" r="2.2"/>
<circle cx="54.8" cy="26.4" r="2.2"/>
<circle cx="55.1" cy="29" r="2.2"/>
<circle cx="70.8" cy="29" r="2.2"/>
<circle cx="58.4" cy="32.3" r="2.2"/>
<circle cx="59" cy="34.3" r="2.2"/>
<circle cx="76.7" cy="33.2" r="2.2"/>
<circle cx="71.5" cy="35.3" r="2.2"/>
<circle cx="69.5" cy="36.9" r="2.2"/>
<circle cx="69.2" cy="39.5" r="2.2"/>
<circle cx="77.1" cy="43.4" r="2.2"/>
<circle cx="61.6" cy="44.5" r="2.2"/>
<circle cx="63.6" cy="44.1" r="2.2"/>
<circle cx="65.3" cy="44.7" r="2.2"/>
<circle cx="61.6" cy="51.3" r="2.2"/>
<circle cx="72.1" cy="50.2" r="2.2"/>
<circle cx="71.1" cy="51.9" r="2.2"/>
<circle cx="68.8" cy="53.6" r="2.2"/>
<circle cx="66.2" cy="54.1" r="2.2"/>
<circle cx="63.6" cy="54.5" r="2.2"/>
<circle cx="77.3" cy="57.8" r="2.2"/>
<circle cx="80.6" cy="61.1" r="2.2"/>
<circle cx="80" cy="63.7" r="2.2"/>
<circle cx="70.1" cy="62.4" r="2.2"/>
<circle cx="72.8" cy="63" r="2.2"/>
<circle cx="74.7" cy="63.3" r="2.2"/>
<circle cx="69.5" cy="65" r="2.2"/>
<circle cx="64.3" cy="62.4" r="2.2"/>
<circle cx="63" cy="59.1" r="2.2"/>
<circle cx="73.4" cy="68.9" r="2.2"/>
<circle cx="76.7" cy="69.6" r="2.2"/>
<circle cx="71.1" cy="70.2" r="2.2"/>
<circle cx="86.5" cy="71.6" r="2.2"/>
<circle cx="77.8" cy="57.7" r="2.2"/>
<circle cx="81.1" cy="60.5" r="2.2"/>
<circle cx="80.5" cy="63.7" r="2.2"/>
<circle cx="70.2" cy="62.6" r="2.2"/>
<circle cx="73.4" cy="63.2" r="2.2"/>
<circle cx="69.6" cy="65.4" r="2.2"/>
<circle cx="72.9" cy="69.2" r="2.2"/>
<circle cx="76.7" cy="69.7" r="2.2"/>
<circle cx="69.6" cy="72.4" r="2.2"/>
<circle cx="73.4" cy="73" r="2.2"/>
<circle cx="68.5" cy="75.7" r="2.2"/>
<circle cx="71.8" cy="76.3" r="2.2"/>
<circle cx="66.9" cy="78.4" r="2.2"/>
<circle cx="70.2" cy="80.1" r="2.2"/>
<circle cx="68" cy="82.8" r="2.2"/>
<circle cx="72.4" cy="83.9" r="2.2"/>
<circle cx="69.6" cy="85" r="2.2"/>
<circle cx="66.4" cy="87.2" r="2.2"/>
<circle cx="70.7" cy="90.4" r="2.2"/>
<circle cx="86" cy="71.9" r="2.2"/>
<circle cx="79.4" cy="74.6" r="2.2"/>
<circle cx="82.7" cy="75.2" r="2.2"/>
<circle cx="87.1" cy="75.7" r="2.2"/>
<circle cx="78.9" cy="78.4" r="2.2"/>
<circle cx="82.2" cy="79.5" r="2.2"/>
<circle cx="84.9" cy="81.2" r="2.2"/>
<circle cx="88.2" cy="79" r="2.2"/>
<circle cx="91.4" cy="75.7" r="2.2"/>
<circle cx="94.7" cy="75.7" r="2.2"/>
<circle cx="98" cy="75.2" r="2.2"/>
<circle cx="104.5" cy="76.3" r="2.2"/>
<circle cx="86" cy="86.6" r="2.2"/>
<circle cx="84.9" cy="92.1" r="2.2"/>
<circle cx="82.7" cy="96.4" r="2.2"/>
<circle cx="83.8" cy="100.8" r="2.2"/>
<circle cx="104" cy="87.7" r="2.2"/>
<circle cx="101.3" cy="91" r="2.2"/>
<circle cx="107.8" cy="92.1" r="2.2"/>
<circle cx="109.4" cy="89.9" r="2.2"/>
<circle cx="104.5" cy="98.1" r="2.2"/>
<circle cx="102.9" cy="99.7" r="2.2"/>
<circle cx="96.9" cy="99.7" r="2.2"/>
<circle cx="65.8" cy="100.3" r="2.2"/>
<circle cx="70.2" cy="102.4" r="2.2"/>
<circle cx="79.4" cy="102.4" r="2.2"/>
<circle cx="77.3" cy="103.5" r="2.2"/>
<circle cx="77.1" cy="69.8" r="2.2"/>
<circle cx="86.4" cy="71.5" r="2.2"/>
<circle cx="80.4" cy="73.6" r="2.2"/>
<circle cx="83.1" cy="75.3" r="2.2"/>
<circle cx="79.3" cy="76.9" r="2.2"/>
<circle cx="81.5" cy="79.1" r="2.2"/>
<circle cx="90.2" cy="75.8" r="2.2"/>
<circle cx="93.4" cy="75.8" r="2.2"/>
<circle cx="97.3" cy="75.3" r="2.2"/>
<circle cx="104.4" cy="76.4" r="2.2"/>
<circle cx="123.1" cy="77.8" r="2.2"/>
<circle cx="86.9" cy="78" r="2.2"/>
<circle cx="91.3" cy="79.1" r="2.2"/>
<circle cx="94.5" cy="79.6" r="2.2"/>
<circle cx="86.9" cy="82.4" r="2.2"/>
<circle cx="89.1" cy="84.5" r="2.2"/>
<circle cx="92.4" cy="83.4" r="2.2"/>
<circle cx="96.7" cy="83.4" r="2.2"/>
<circle cx="101.1" cy="83.4" r="2.2"/>
<circle cx="112" cy="86.7" r="2.2"/>
<circle cx="109.3" cy="89.4" r="2.2"/>
<circle cx="107.6" cy="91.6" r="2.2"/>
<circle cx="104.4" cy="87.3" r="2.2"/>
<circle cx="102.7" cy="89.4" r="2.2"/>
<circle cx="86.9" cy="87.8" r="2.2"/>
<circle cx="90.2" cy="91.1" r="2.2"/>
<circle cx="93.4" cy="92.2" r="2.2"/>
<circle cx="97.3" cy="90.5" r="2.2"/>
<circle cx="98.9" cy="93.3" r="2.2"/>
<circle cx="84.7" cy="92.2" r="2.2"/>
<circle cx="83.6" cy="95.4" r="2.2"/>
<circle cx="82.5" cy="97.6" r="2.2"/>
<circle cx="89.1" cy="96" r="2.2"/>
<circle cx="92.4" cy="97.6" r="2.2"/>
<circle cx="96.2" cy="99.3" r="2.2"/>
<circle cx="103.3" cy="98.2" r="2.2"/>
<circle cx="105.4" cy="98.7" r="2.2"/>
<circle cx="79.3" cy="102" r="2.2"/>
<circle cx="77.6" cy="105.3" r="2.2"/>
<circle cx="77.1" cy="108" r="2.2"/>
<circle cx="85.8" cy="100.9" r="2.2"/>
<circle cx="86.4" cy="104.2" r="2.2"/>
<circle cx="84.7" cy="107.4" r="2.2"/>
<circle cx="84.2" cy="111.8" r="2.2"/>
<circle cx="100" cy="104.2" r="2.2"/>
<circle cx="95.1" cy="105.3" r="2.2"/>
<circle cx="92.4" cy="108" r="2.2"/>
<circle cx="94" cy="109.6" r="2.2"/>
<circle cx="96.7" cy="107.4" r="2.2"/>
<circle cx="98.9" cy="110.2" r="2.2"/>
<circle cx="107.1" cy="106.6" r="2.2"/>
<circle cx="113.6" cy="106.3" r="2.2"/>
<circle cx="103.5" cy="110.5" r="2.2"/>
<circle cx="91" cy="83.3" r="2.2"/>
<circle cx="96.7" cy="88.7" r="2.2"/>
<circle cx="89.1" cy="82.5" r="2.2"/>
<circle cx="90.4" cy="80.9" r="2.2"/>
<circle cx="93.2" cy="79.8" r="2.2"/>
<circle cx="86.4" cy="78.5" r="2.2"/>
<circle cx="87" cy="92.5" r="2.2"/>
<circle cx="87.2" cy="86.9" r="2.2"/>
<circle cx="97.1" cy="87.6" r="2.2"/>
<circle cx="87.9" cy="96.1" r="2.2"/>
<circle cx="98.5" cy="78.2" r="2.2"/>
<circle cx="89.3" cy="88.2" r="2.2"/>
<circle cx="97.4" cy="85.6" r="2.2"/>
<circle cx="96.2" cy="82.5" r="2.2"/>
<circle cx="96.2" cy="84.2" r="2.2"/>
<circle cx="90.5" cy="93.7" r="2.2"/>
<circle cx="96.1" cy="90.7" r="2.2"/>
<circle cx="87.4" cy="85.3" r="2.2"/>
<circle cx="95.5" cy="82.1" r="2.2"/>
<circle cx="88.3" cy="77.3" r="2.2"/>
<circle cx="94.3" cy="97.7" r="2.2"/>
<circle cx="100.1" cy="79.9" r="2.2"/>
<circle cx="86.2" cy="92.7" r="2.2"/>
<circle cx="87.3" cy="77.9" r="2.2"/>
<circle cx="89.8" cy="93.1" r="2.2"/>
<circle cx="100.4" cy="79.6" r="2.2"/>
<circle cx="90.5" cy="77.6" r="2.2"/>
<circle cx="91.1" cy="83.8" r="2.2"/>
<circle cx="70.7" cy="103.3" r="2.2"/>
<circle cx="68.5" cy="106.5" r="2.2"/>
<circle cx="66.4" cy="110.9" r="2.2"/>
<circle cx="64.2" cy="116.4" r="2.2"/>
<circle cx="77.3" cy="104.9" r="2.2"/>
<circle cx="79.4" cy="107.6" r="2.2"/>
<circle cx="82.7" cy="104.4" r="2.2"/>
<circle cx="84.9" cy="106.5" r="2.2"/>
<circle cx="84.4" cy="110.9" r="2.2"/>
<circle cx="77.3" cy="116.9" r="2.2"/>
<circle cx="86" cy="116.9" r="2.2"/>
<circle cx="87.1" cy="120.2" r="2.2"/>
<circle cx="86" cy="123.4" r="2.2"/>
<circle cx="82.7" cy="121.3" r="2.2"/>
<circle cx="80" cy="120.2" r="2.2"/>
<circle cx="66.4" cy="122.4" r="2.2"/>
<circle cx="70.2" cy="123.4" r="2.2"/>
<circle cx="73.4" cy="122.9" r="2.2"/>
<circle cx="77.3" cy="124.5" r="2.2"/>
<circle cx="81.6" cy="125.1" r="2.2"/>
<circle cx="71.8" cy="128.4" r="2.2"/>
<circle cx="75.1" cy="131.6" r="2.2"/>
<circle cx="73.4" cy="136" r="2.2"/>
<circle cx="74" cy="140.3" r="2.2"/>
<circle cx="68" cy="129" r="2.2"/>
<circle cx="69.5" cy="133" r="2.2"/>
<circle cx="70.5" cy="137" r="2.2"/>
<circle cx="66.5" cy="141" r="2.2"/>
<circle cx="78.4" cy="134.9" r="2.2"/>
<circle cx="82.7" cy="136" r="2.2"/>
<circle cx="86" cy="133.8" r="2.2"/>
<circle cx="88.7" cy="132.2" r="2.2"/>
<circle cx="88.2" cy="137.1" r="2.2"/>
<circle cx="86" cy="139.3" r="2.2"/>
<circle cx="90.9" cy="140.3" r="2.2"/>
<circle cx="97.4" cy="131.6" r="2.2"/>
<circle cx="98" cy="136" r="2.2"/>
<circle cx="82.7" cy="145.3" r="2.2"/>
<circle cx="87.1" cy="147.4" r="2.2"/>
<circle cx="91.4" cy="145.3" r="2.2"/>
<circle cx="96.3" cy="144.2" r="2.2"/>
<circle cx="100.7" cy="141.4" r="2.2"/>
<circle cx="105.1" cy="140.3" r="2.2"/>
<circle cx="108.9" cy="138.2" r="2.2"/>
<circle cx="94.7" cy="104.9" r="2.2"/>
<circle cx="92" cy="108.2" r="2.2"/>
<circle cx="95.3" cy="108.7" r="2.2"/>
<circle cx="98" cy="110.4" r="2.2"/>
<circle cx="100.2" cy="104.9" r="2.2"/>
<circle cx="103.4" cy="110.4" r="2.2"/>
<circle cx="106.7" cy="106.5" r="2.2"/>
<circle cx="65.6" cy="155.5" r="2.2"/>
<circle cx="62.3" cy="158.8" r="2.2"/>
<circle cx="57.7" cy="162.7" r="2.2"/>
<circle cx="78" cy="152.2" r="2.2"/>
<circle cx="113.3" cy="142.4" r="2.2"/>
<circle cx="88.5" cy="140.4" r="2.2"/>
<circle cx="91.1" cy="140.4" r="2.2"/>
<circle cx="87.8" cy="133.2" r="2.2"/>
<circle cx="85.2" cy="135.9" r="2.2"/>
<circle cx="81.3" cy="137.2" r="2.2"/>
<circle cx="77.3" cy="134.5" r="2.2"/>
<circle cx="74.1" cy="140.4" r="2.2"/>
<circle cx="123.4" cy="78.1" r="2.2"/>
<circle cx="142.1" cy="77.2" r="2.2"/>
<circle cx="112.7" cy="87" r="2.2"/>
<circle cx="113.6" cy="106.3" r="2.2"/>
<circle cx="164.4" cy="126.1" r="2.2"/>
<circle cx="176.8" cy="121.2" r="2.2"/>
<circle cx="173.1" cy="128.9" r="2.2"/>
<circle cx="128" cy="129.6" r="2.2"/>
<circle cx="131.6" cy="130.8" r="2.2"/>
<circle cx="118.5" cy="133.8" r="2.2"/>
<circle cx="125.4" cy="134.3" r="2.2"/>
<circle cx="114.4" cy="142.3" r="2.2"/>
<circle cx="244.2" cy="103.8" r="2.2"/>
<circle cx="232.2" cy="105.1" r="2.2"/>
<circle cx="233.3" cy="107.6" r="2.2"/>
<circle cx="227.2" cy="112.9" r="2.2"/>
<circle cx="231.1" cy="117.4" r="2.2"/>
<circle cx="215.2" cy="115.5" r="2.2"/>
<circle cx="210.8" cy="122.1" r="2.2"/>
</g>
<rect x="42.3" y="12.4" width="211.9" height="173" fill="none" stroke="#4d4d4d" stroke-width="0.9"/>
<g stroke="#444" stroke-width="0.8">
<line x1="40.1" y1="181.4" x2="42.3" y2="181.4"/>
<line x1="40.1" y1="150.4" x2="42.3" y2="150.4"/>
<line x1="40.1" y1="119.4" x2="42.3" y2="119.4"/>
<line x1="40.1" y1="88.4" x2="42.3" y2="88.4"/>
<line x1="40.1" y1="57.4" x2="42.3" y2="57.4"/>
<line x1="40.1" y1="26.4" x2="42.3" y2="26.4"/>
<line x1="52.2" y1="185.4" x2="52.2" y2="187.6"/>
<line x1="78.2" y1="185.4" x2="78.2" y2="187.6"/>
<line x1="104.2" y1="185.4" x2="104.2" y2="187.6"/>
<line x1="130.2" y1="185.4" x2="130.2" y2="187.6"/>
<line x1="156.2" y1="185.4" x2="156.2" y2="187.6"/>
<line x1="182.2" y1="185.4" x2="182.2" y2="187.6"/>
<line x1="208.2" y1="185.4" x2="208.2" y2="187.6"/>
<line x1="234.2" y1="185.4" x2="234.2" y2="187.6"/>
</g>
<g font-family='"DejaVu Sans", "Liberation Sans", sans-serif' font-size="5.8" fill="#262626" stroke="#262626" stroke-width="0.18">
<text x="37.7" y="183.5" text-anchor="end">0</text>
<text x="37.7" y="152.5" text-anchor="end">20,000</text>
<text x="37.7" y="121.5" text-anchor="end">40,000</text>
<text x="37.7" y="90.5" text-anchor="end">60,000</text>
<text x="37.7" y="59.5" text-anchor="end">80,000</text>
<text x="37.7" y="28.5" text-anchor="end">100,000</text>
<text x="52.2" y="194.6" text-anchor="middle">0</text>
<text x="78.2" y="194.6" text-anchor="middle">50000</text>
<text x="104.2" y="194.6" text-anchor="middle">100000</text>
<text x="130.2" y="194.6" text-anchor="middle">150000</text>
<text x="156.2" y="194.6" text-anchor="middle">200000</text>
<text x="182.2" y="194.6" text-anchor="middle">250000</text>
<text x="208.2" y="194.6" text-anchor="middle">300000</text>
<text x="234.2" y="194.6" text-anchor="middle">350000</text>
<text x="148.2" y="202.6" text-anchor="middle" font-size="6">Pesticide Use (tonnes)</text>
<text transform="translate(9.9,98.9) rotate(-90)" text-anchor="middle">Yield (hg/ha)</text>
<text x="148.2" y="9.2" text-anchor="middle" font-size="7.1">Yield vs. Pesticide Use</text>
</g>
<text x="131.2" y="222.6" text-anchor="middle" font-family='"Liberation Serif", "DejaVu Serif", serif' font-size="14" fill="#111">(<tspan font-weight="bold">c</tspan>)</text>
</g>
</svg>
</body>
</html>
